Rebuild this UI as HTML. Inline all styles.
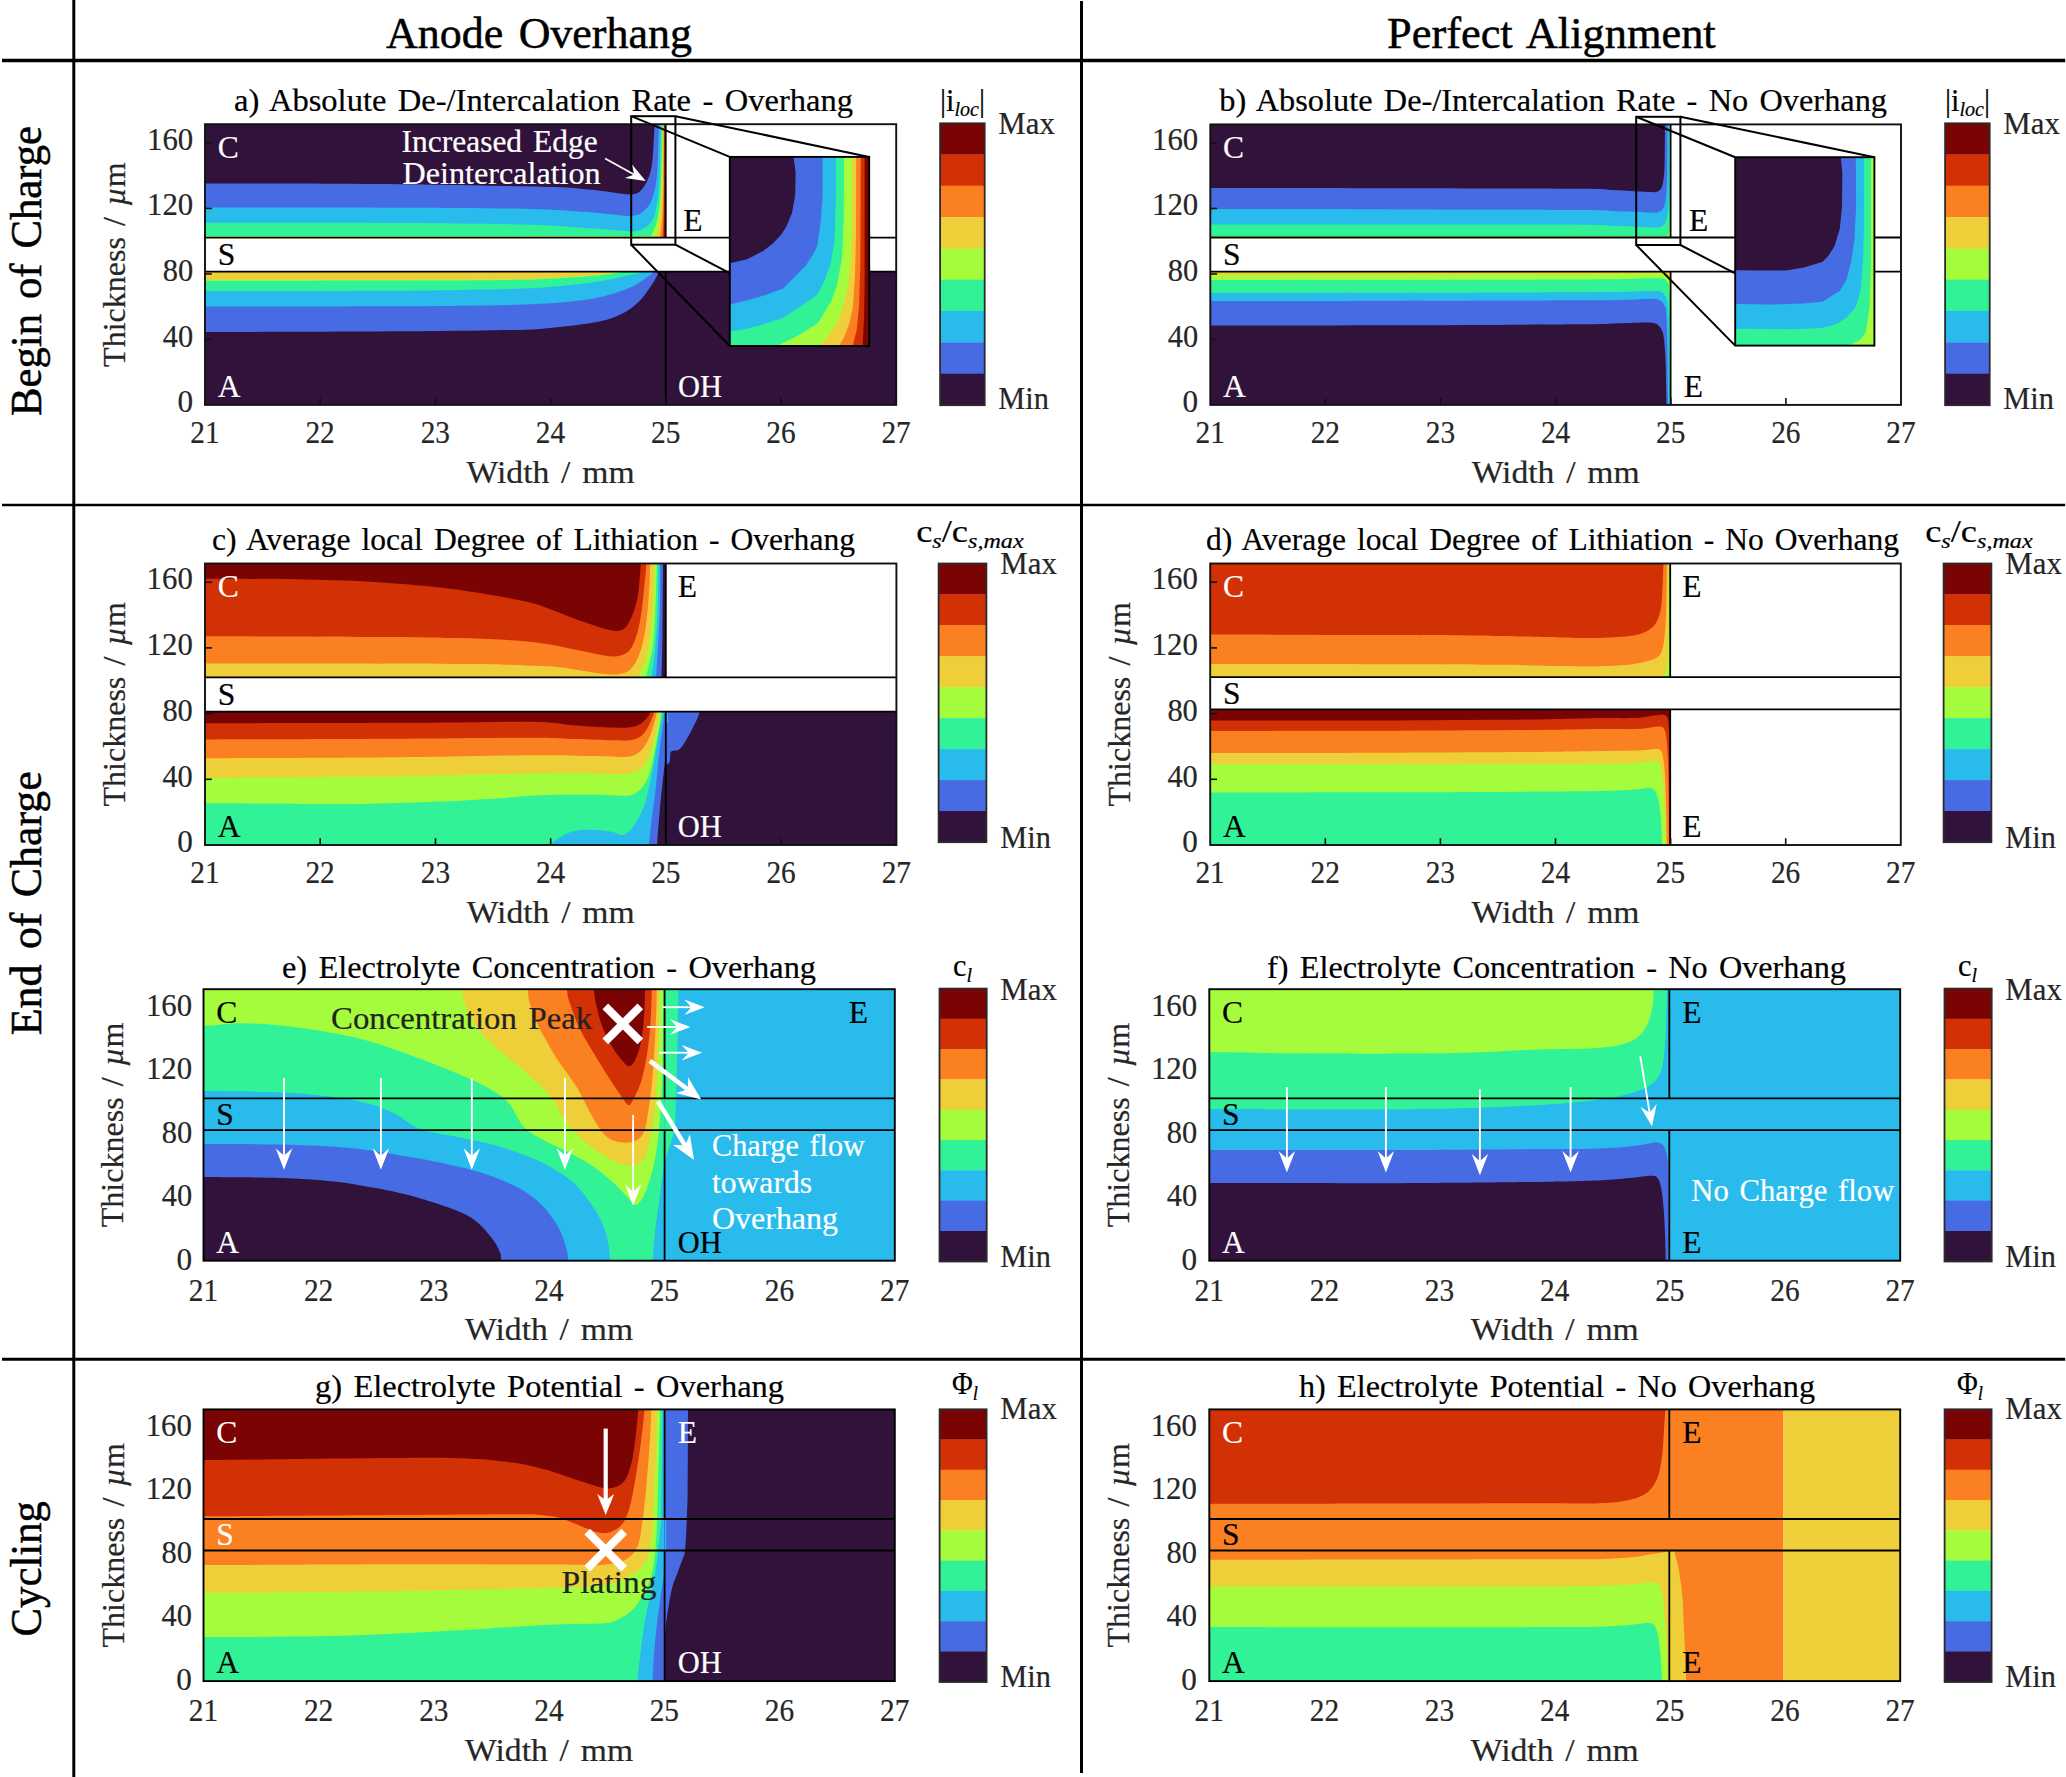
<!DOCTYPE html>
<html lang="en"><head><meta charset="utf-8"><title>Anode Overhang vs Perfect Alignment</title>
<style>html,body{margin:0;padding:0;background:#fff}svg{display:block}text{white-space:pre;word-spacing:0.1em}</style></head>
<body>
<svg width="2066" height="1777" viewBox="0 0 2066 1777" font-family="'Liberation Serif', 'DejaVu Serif', serif">
<defs><clipPath id="c1"><rect x="205" y="124.2" width="460.7" height="113.4"/></clipPath><clipPath id="c2"><rect x="205" y="271.7" width="691.2" height="133.2"/></clipPath><clipPath id="c3"><rect x="1210.3" y="124.4" width="460.3" height="113.1"/></clipPath><clipPath id="c4"><rect x="1210.3" y="271.7" width="460.3" height="133.2"/></clipPath><clipPath id="c5"><rect x="205" y="563.5" width="460.8" height="113.9"/></clipPath><clipPath id="c6"><rect x="205" y="711.6" width="460.8" height="133.4"/></clipPath><clipPath id="c7"><rect x="665.8" y="711.6" width="230.6" height="133.4"/></clipPath><clipPath id="c8"><rect x="1210.2" y="563.5" width="460" height="113.7"/></clipPath><clipPath id="c9"><rect x="1210.2" y="709.3" width="460" height="135.7"/></clipPath><clipPath id="c10"><rect x="203.5" y="989.2" width="461.1" height="271.5"/></clipPath><clipPath id="c11"><rect x="664.6" y="989.2" width="230.2" height="271.5"/></clipPath><clipPath id="c12"><rect x="1209.3" y="989.2" width="460" height="271.5"/></clipPath><clipPath id="c13"><rect x="203.5" y="1409.4" width="461.1" height="271.7"/></clipPath><clipPath id="c14"><rect x="664.6" y="1409.4" width="230.2" height="271.7"/></clipPath><clipPath id="c15"><rect x="1209.3" y="1409.4" width="460" height="271.7"/></clipPath><clipPath id="c16"><rect x="1669.3" y="1550.5" width="230.9" height="130.6"/></clipPath><clipPath id="c17"><rect x="729.8" y="156.9" width="139.4" height="189.1"/></clipPath><clipPath id="c18"><rect x="1735.2" y="157.2" width="139.2" height="188.4"/></clipPath></defs>
<rect width="2066" height="1777" fill="#fff"/>
<rect x="205" y="124.2" width="691.2" height="280.7" fill="#fff"/>
<g clip-path="url(#c1)">
<rect x="205" y="124.2" width="460.7" height="113.4" fill="#30123b"/>
<path d="M145 183.4C155 183.4 179.2 183.4 205 183.4C230.8 183.4 267.5 183.4 300 183.6C332.5 183.8 370 184 400 184.3C430 184.6 453.3 185 480 185.5C506.7 186 540 186.4 560 187.3C580 188.2 589.7 189.7 600 190.8C610.3 191.9 616.5 193.2 622 193.8C627.5 194.4 630 194.7 633 194.2C636 193.7 637.9 193.3 640.3 191C642.7 188.7 645.5 184.7 647.5 180.2C649.5 175.7 651 170.6 652 164C653 157.4 653.3 147.5 653.7 140.8C654.1 134.1 654.4 129.1 654.6 124C654.8 118.9 654.8 112.3 654.8 110L725.7 64.2L725.7 297.6L145 297.6Z" fill="#466be3"/>
<path d="M145 207.6C155 207.6 162.5 207.6 205 207.6C247.5 207.6 354.2 207.7 400 207.8C445.8 207.9 456.7 208 480 208.2C503.3 208.4 521 208.5 540 209.2C559 209.9 579.5 211.4 593.7 212.5C607.9 213.6 618.3 215.3 625 215.8C631.7 216.3 631.2 216.2 634 215.6C636.8 215 639.2 214.7 642 212.4C644.8 210.1 648.6 207.1 651 201.7C653.4 196.3 655.2 188.8 656.4 180.2C657.6 171.5 657.8 159.2 658.2 149.8C658.6 140.4 658.8 130.6 659 124C659.2 117.4 659.2 112.3 659.2 110L725.7 64.2L725.7 297.6L145 297.6Z" fill="#28bbec"/>
<path d="M145 222.8C155 222.8 162.5 222.8 205 222.8C247.5 222.8 354.2 222.8 400 223C445.8 223.2 456.7 223.5 480 223.8C503.3 224.1 521 224.2 540 225C559 225.8 579.5 227.6 593.7 228.6C607.9 229.6 618.1 230.6 625 231C631.9 231.4 631.9 231.4 635 231C638.1 230.6 640.9 230.5 643.9 228.6C646.9 226.7 650.6 224.1 652.8 219.6C655 215.1 656.2 208.9 657.3 201.7C658.4 194.5 659.1 186 659.6 176.6C660.1 167.2 660.3 153.8 660.5 145C660.7 136.2 660.8 129.8 660.9 124C661 118.2 661 112.3 661 110L725.7 64.2L725.7 297.6L145 297.6Z" fill="#32f298"/>
<path d="M648 242C648.4 241.3 648.7 240.7 650.1 237.6C651.5 234.5 654.8 229.2 656.4 223.2C658 217.2 659.1 212.4 660 201.7C660.9 190.9 661.4 171.6 661.8 158.7C662.2 145.8 662.2 132.1 662.3 124C662.4 115.9 662.4 112.3 662.4 110L725.7 64.2L725.7 297.6L145 297.6Z" fill="#a4fc3c"/>
<path d="M655 242C655.2 241.3 655.6 242.1 656.4 237.6C657.2 233.1 659.1 222.9 660 215C660.9 207.1 661.5 199.2 662 190C662.5 180.8 662.6 171 662.8 160C663 149 663.1 132.3 663.2 124C663.3 115.7 663.3 112.3 663.3 110L725.7 64.2L725.7 297.6L145 297.6Z" fill="#eecf3a"/>
<path d="M659 242C659.2 241.3 659.5 242.1 660 237.6C660.5 233.1 661.8 224.6 662.3 215C662.8 205.4 663 195.2 663.2 180C663.4 164.8 663.5 135.7 663.6 124C663.7 112.3 663.7 112.3 663.7 110L725.7 64.2L725.7 297.6L145 297.6Z" fill="#fb8022"/>
<path d="M662.2 242C662.3 241.3 662.5 242.1 662.7 237.6C662.9 233.1 663.4 224.6 663.6 215C663.8 205.4 663.9 195.2 664 180C664.1 164.8 664.2 135.7 664.2 124C664.2 112.3 664.2 112.3 664.2 110L725.7 64.2L725.7 297.6L145 297.6Z" fill="#d23105"/>
<path d="M664.4 242C664.4 241.3 664.4 257.3 664.5 237.6C664.6 217.9 664.8 145.3 664.8 124C664.8 102.7 664.8 112.3 664.8 110L725.7 64.2L725.7 297.6L145 297.6Z" fill="#7a0403"/>
<rect x="205" y="236" width="445" height="1.6" fill="#b5e83c"/>
</g>
<g clip-path="url(#c2)">
<rect x="205" y="271.7" width="691.2" height="133.2" fill="#30123b"/>
<path d="M145 332C155 332 179.2 332 205 332C230.8 332 267.5 331.9 300 331.8C332.5 331.7 370 331.5 400 331.3C430 331.1 456.7 330.9 480 330.5C503.3 330.1 521 330.2 540 328.9C559 327.6 580.3 325 593.7 322.6C607.1 320.2 613.1 317.9 620.6 314.5C628.1 311.1 633.4 306.8 638.5 302C643.6 297.2 647.7 290.7 651 285.9C654.3 281.1 656.7 276 658.2 273.4C659.7 270.8 659.7 270.6 660 270L700 271L700 211L145 211Z" fill="#466be3"/>
<path d="M145 306.5C155 306.5 162.5 306.5 205 306.5C247.5 306.5 354.2 306.5 400 306.3C445.8 306.1 456.7 305.9 480 305.5C503.3 305.1 521 305 540 303.8C559 302.6 578.8 301.1 593.7 298.4C608.6 295.7 620.5 291.3 629.5 287.7C638.5 284.1 643.6 279.4 647.5 276.9C651.4 274.3 651.7 273.5 652.8 272.4C653.9 271.2 653.8 270.4 654 270L654 211L145 211Z" fill="#28bbec"/>
<path d="M145 290.9C155 290.9 162.5 290.9 205 290.9C247.5 290.9 354.2 290.9 400 290.7C445.8 290.5 456.7 290 480 289.5C503.3 289 521 288.9 540 287.7C559 286.5 578.8 284.4 593.7 282.3C608.6 280.2 621.7 276.8 629.5 275.1C637.3 273.5 638.2 273.2 640.3 272.4C642.4 271.5 641.7 270.4 642 270L642 211L145 211Z" fill="#32f298"/>
<path d="M145 280.8C155 280.8 162.5 280.8 205 280.8C247.5 280.8 354.2 280.7 400 280.6C445.8 280.5 456.7 280.4 480 280.2C503.3 280 521 279.9 540 279.2C559 278.5 580.7 276.9 593.7 275.8C606.7 274.7 613.6 273.4 618 272.4C622.4 271.4 619.7 270.4 620 270L620 211L145 211Z" fill="#a4fc3c"/>
<path d="M145 279.8C155 279.8 162.5 279.8 205 279.8C247.5 279.8 354.2 279.8 400 279.7C445.8 279.6 456.7 279.5 480 279.3C503.3 279.1 521 279.1 540 278.4C559 277.7 581.2 276.1 593.7 275.1C606.2 274.1 611.1 273.2 615 272.4C618.9 271.5 616.7 270.4 617 270L617 211L145 211Z" fill="#eecf3a"/>
</g>
<line x1="205" y1="237.6" x2="896.2" y2="237.6" stroke="#000" stroke-width="1.8"/>
<line x1="205" y1="271.7" x2="896.2" y2="271.7" stroke="#000" stroke-width="1.8"/>
<line x1="665.7" y1="124.2" x2="665.7" y2="237.6" stroke="#000" stroke-width="1.8"/>
<line x1="665.7" y1="271.7" x2="665.7" y2="404.9" stroke="#000" stroke-width="1.8"/>
<rect x="205" y="124.2" width="691.2" height="280.7" fill="none" stroke="#111" stroke-width="1.9"/>
<line x1="320.2" y1="404.9" x2="320.2" y2="398.1" stroke="#101010" stroke-width="1.6"/>
<line x1="435.4" y1="404.9" x2="435.4" y2="398.1" stroke="#101010" stroke-width="1.6"/>
<line x1="550.6" y1="404.9" x2="550.6" y2="398.1" stroke="#101010" stroke-width="1.6"/>
<line x1="665.8" y1="404.9" x2="665.8" y2="398.1" stroke="#101010" stroke-width="1.6"/>
<line x1="781" y1="404.9" x2="781" y2="398.1" stroke="#101010" stroke-width="1.6"/>
<line x1="205" y1="339.4" x2="211.8" y2="339.4" stroke="#101010" stroke-width="1.6"/>
<line x1="205" y1="273.9" x2="211.8" y2="273.9" stroke="#101010" stroke-width="1.6"/>
<line x1="205" y1="208.4" x2="211.8" y2="208.4" stroke="#101010" stroke-width="1.6"/>
<line x1="205" y1="142.9" x2="211.8" y2="142.9" stroke="#101010" stroke-width="1.6"/>
<rect x="1210.3" y="124.4" width="690.7" height="280.5" fill="#fff"/>
<g clip-path="url(#c3)">
<rect x="1210.3" y="124.4" width="460.3" height="113.1" fill="#30123b"/>
<path d="M1150 187.9C1160 187.9 1168.3 187.9 1210 187.9C1251.7 187.9 1338.3 188 1400 188.2C1461.7 188.3 1544.8 188.5 1580 188.8C1615.2 189.1 1602.3 189.6 1611.5 190C1620.7 190.4 1628.6 190.8 1635.2 191.2C1641.8 191.5 1647.4 192 1650.9 192.1C1654.4 192.2 1654.8 192.4 1656.4 192C1658 191.6 1659.4 190.9 1660.4 189.6C1661.5 188.3 1662.1 186.9 1662.7 184.1C1663.3 181.3 1663.9 177.5 1664.2 173C1664.5 168.5 1664.6 165.2 1664.7 157.3C1664.8 149.4 1664.9 135.3 1664.9 125.8C1665 116.2 1665 104.3 1665 100L1730.6 64.4L1730.6 297.5L1150.3 297.5Z" fill="#466be3"/>
<path d="M1150 209C1160 209 1168.3 208.9 1210 209C1251.7 209.1 1338.3 209.2 1400 209.4C1461.7 209.6 1544.8 209.8 1580 210.1C1615.2 210.3 1602.3 210.6 1611.5 210.9C1620.7 211.2 1628.6 211.4 1635.2 211.7C1641.8 212 1647.2 212.5 1650.9 212.6C1654.6 212.7 1655.4 212.8 1657.2 212.4C1659 212 1660.8 211.4 1662 210.1C1663.2 208.8 1664 207.5 1664.7 204.6C1665.4 201.7 1665.9 198 1666.3 192.7C1666.7 187.4 1666.9 184.2 1667.1 173C1667.3 161.8 1667.4 138 1667.5 125.8C1667.6 113.6 1667.5 104.3 1667.5 100L1730.6 64.4L1730.6 297.5L1150.3 297.5Z" fill="#28bbec"/>
<path d="M1150 224.4C1160 224.4 1168.3 224.4 1210 224.4C1251.7 224.4 1338.3 224.4 1400 224.5C1461.7 224.6 1544.8 224.5 1580 224.7C1615.2 224.9 1602.3 225.5 1611.5 225.8C1620.7 226.1 1628.6 226.3 1635.2 226.6C1641.8 226.9 1647 227.3 1650.9 227.4C1654.8 227.5 1656.7 227.7 1658.8 227.3C1660.9 226.9 1662.2 226.5 1663.5 225.1C1664.8 223.7 1665.9 222.1 1666.7 218.7C1667.5 215.3 1667.9 210.9 1668.3 204.6C1668.7 198.3 1668.8 194 1669 180.9C1669.2 167.8 1669.2 139.3 1669.3 125.8C1669.3 112.3 1669.3 104.3 1669.3 100L1730.6 64.4L1730.6 297.5L1150.3 297.5Z" fill="#32f298"/>
<path d="M1665.5 240L1666.7 236.9L1669 232.9L1669.8 220.3L1670.2 200L1730.6 64.4L1730.6 297.5L1150.3 297.5Z" fill="#a4fc3c"/>
<rect x="1210.3" y="236.1" width="460.3" height="1.4" fill="#b5e83c"/>
</g>
<g clip-path="url(#c4)">
<rect x="1210.3" y="271.7" width="460.3" height="133.2" fill="#eecf3a"/>
<path d="M1150 275.1C1160 275.1 1138.3 275.2 1210 275.1C1281.7 275 1507.5 274.4 1580 274.2C1652.5 273.9 1631.3 273.7 1645 273.6C1658.7 273.5 1658.3 273.1 1662.2 273.4C1666.1 273.7 1667.3 274.2 1668.6 275.5C1669.9 276.8 1669.8 275.5 1670.1 281.1C1670.4 286.7 1670.4 283.2 1670.5 309.1C1670.6 335 1670.6 415.2 1670.6 436.4L1730.6 464.9L1150.3 464.9Z" fill="#a4fc3c"/>
<path d="M1150 280C1160 280 1138.3 280.1 1210 280C1281.7 279.9 1507.5 279.8 1580 279.5C1652.5 279.2 1631.3 278.5 1645 278.3C1658.7 278.1 1658.8 278 1662.3 278.4C1665.8 278.8 1665.2 279.5 1666.2 280.5C1667.2 281.5 1668 282.1 1668.6 284.4C1669.1 286.6 1669.2 288.1 1669.5 294C1669.8 299.9 1670 296.3 1670.1 320C1670.2 343.7 1670.2 417 1670.2 436.4L1730.6 464.9L1150.3 464.9Z" fill="#32f298"/>
<path d="M1150 293C1160 293 1138.3 293.1 1210 293C1281.7 292.9 1507.5 292.6 1580 292.3C1652.5 292 1631.7 291.2 1645 291.1C1658.3 291 1656.6 290.8 1659.9 291.4C1663.2 292 1663.5 293.3 1664.7 295C1665.9 296.7 1666.5 298.7 1667.1 301.8C1667.7 304.9 1668 307.9 1668.3 313.4C1668.6 318.9 1668.9 319.8 1669.1 335C1669.3 350.2 1669.5 387.8 1669.6 404.6C1669.7 421.4 1669.7 430.8 1669.7 436L1730.6 464.9L1150.3 464.9Z" fill="#28bbec"/>
<path d="M1150 301.1C1160 301.1 1138.3 301.2 1210 301.1C1281.7 301 1507.5 300.7 1580 300.3C1652.5 299.9 1632.4 299.1 1645 298.9C1657.6 298.7 1652.8 298.7 1655.5 299.1C1658.2 299.5 1659.8 300.1 1661.3 301.3C1662.8 302.5 1663.9 304.1 1664.7 306.1C1665.5 308.1 1665.8 308.6 1666.2 313.4C1666.6 318.2 1666.8 319.8 1667.1 335C1667.4 350.2 1667.9 387.8 1668.1 404.6C1668.3 421.4 1668.2 430.8 1668.2 436L1730.6 464.9L1150.3 464.9Z" fill="#466be3"/>
<path d="M1150 325.5C1160 325.5 1168.3 325.6 1210 325.5C1251.7 325.4 1338.3 325.4 1400 325.2C1461.7 325 1543.3 324.6 1580 324.3C1616.7 324 1608.7 323.5 1620 323.2C1631.3 322.9 1641.9 322.3 1647.8 322.4C1653.7 322.5 1653.6 322.9 1655.5 323.6C1657.4 324.3 1658.4 325.4 1659.4 326.5C1660.5 327.6 1661.1 328.5 1661.8 330.3C1662.5 332.1 1663.1 332.2 1663.7 337.1C1664.3 342.1 1665 348.8 1665.5 360C1666 371.2 1666.2 391.9 1666.4 404.6C1666.6 417.3 1666.5 430.8 1666.5 436L1730.6 464.9L1150.3 464.9Z" fill="#30123b"/>
</g>
<line x1="1210.3" y1="237.5" x2="1901" y2="237.5" stroke="#000" stroke-width="1.8"/>
<line x1="1210.3" y1="271.7" x2="1901" y2="271.7" stroke="#000" stroke-width="1.8"/>
<line x1="1670.6" y1="124.4" x2="1670.6" y2="237.5" stroke="#000" stroke-width="1.8"/>
<line x1="1670.6" y1="271.7" x2="1670.6" y2="404.9" stroke="#000" stroke-width="1.8"/>
<rect x="1210.3" y="124.4" width="690.7" height="280.5" fill="none" stroke="#111" stroke-width="1.9"/>
<line x1="1325.4" y1="404.9" x2="1325.4" y2="398.1" stroke="#101010" stroke-width="1.6"/>
<line x1="1440.5" y1="404.9" x2="1440.5" y2="398.1" stroke="#101010" stroke-width="1.6"/>
<line x1="1555.7" y1="404.9" x2="1555.7" y2="398.1" stroke="#101010" stroke-width="1.6"/>
<line x1="1670.8" y1="404.9" x2="1670.8" y2="398.1" stroke="#101010" stroke-width="1.6"/>
<line x1="1785.9" y1="404.9" x2="1785.9" y2="398.1" stroke="#101010" stroke-width="1.6"/>
<line x1="1210.3" y1="339.4" x2="1217.1" y2="339.4" stroke="#101010" stroke-width="1.6"/>
<line x1="1210.3" y1="274" x2="1217.1" y2="274" stroke="#101010" stroke-width="1.6"/>
<line x1="1210.3" y1="208.5" x2="1217.1" y2="208.5" stroke="#101010" stroke-width="1.6"/>
<line x1="1210.3" y1="143.1" x2="1217.1" y2="143.1" stroke="#101010" stroke-width="1.6"/>
<rect x="205" y="563.5" width="691.4" height="281.5" fill="#fff"/>
<g clip-path="url(#c5)">
<rect x="205" y="563.5" width="460.8" height="113.9" fill="#30123b"/>
<path d="M661.5 690C661.5 687.8 661.4 686.9 661.6 676.9C661.8 666.9 662.3 648.9 662.5 630C662.7 611.1 662.9 578.4 663 563.4C663.1 548.4 663 543.9 663 540L145 503.5L145 737.4Z" fill="#466be3"/>
<path d="M656 690C656 687.8 655.9 683.9 656.2 676.9C656.5 669.9 657.4 658.8 658 648C658.6 637.2 659.4 626.1 659.8 612C660.2 597.9 660.2 575.4 660.3 563.4C660.4 551.4 660.4 543.9 660.4 540L145 503.5L145 737.4Z" fill="#28bbec"/>
<path d="M651 690C651.1 687.8 651 683.9 651.7 676.9C652.4 669.9 654.3 658.8 655.3 648C656.3 637.2 657.1 626.1 657.6 612C658.1 597.9 658.3 575.4 658.5 563.4C658.7 551.4 658.6 543.9 658.6 540L145 503.5L145 737.4Z" fill="#32f298"/>
<path d="M644 690C644.4 687.8 644.8 683.9 646.2 676.9C647.6 669.9 651.1 658.8 652.6 648C654.1 637.2 654.6 626.1 655.3 612C656 597.9 656.5 575.4 656.7 563.4C657 551.4 656.8 543.9 656.8 540L145 503.5L145 737.4Z" fill="#a4fc3c"/>
<path d="M634 690C634.7 687.8 636.1 682.4 638.1 676.9C640.1 671.4 644.1 664.9 646.2 657.1C648.3 649.3 649.6 640.5 650.8 630C652 619.5 652.9 605.1 653.5 594C654.1 582.9 654.2 572.4 654.4 563.4C654.6 554.4 654.5 543.9 654.5 540L145 503.5L145 737.4Z" fill="#eecf3a"/>
<path d="M145 663.4C155 663.4 152.5 663.3 205 663.4C257.5 663.5 405.5 663.5 460 663.9C514.5 664.3 515.3 665.2 532 665.7C548.7 666.2 552.7 666.5 560 667.2C567.3 667.9 568.8 668.6 576 669.7C583.2 670.8 596.1 673 603 673.8C609.9 674.5 612.9 674.9 617.4 674.2C621.9 673.5 626.4 672.9 630 669.7C633.6 666.6 636.5 661.9 639 655.3C641.5 648.7 643.6 640.2 645.3 630C646.9 619.8 648.1 605.1 648.9 594C649.7 582.9 650 572.4 650.2 563.4C650.5 554.4 650.4 543.9 650.4 540L640 503.5L145 503.5Z" fill="#fb8022"/>
<path d="M145 636.3C155 636.3 167.5 636.2 205 636.3C242.5 636.4 327.5 636.6 370 636.9C412.5 637.2 436 637.5 460 638.1C484 638.7 499.8 639.5 514 640.5C528.2 641.5 534.7 642.2 545 643.8C555.3 645.3 566.3 647.9 576 649.8C585.7 651.7 596.1 654.2 603 655.3C609.9 656.4 612.9 657.1 617.4 656.2C621.9 655.3 626.5 654.2 630 649.8C633.5 645.4 636 637.8 638.1 630C640.2 622.2 641.4 612 642.6 603C643.8 594 644.7 582.6 645.3 576C645.9 569.4 646 569.4 646.2 563.4C646.4 557.4 646.4 543.9 646.4 540L640 503.5L145 503.5Z" fill="#d23105"/>
<path d="M145 578.7C155 578.7 179.5 578.6 205 578.7C230.5 578.8 270.5 578.8 298 579.3C325.5 579.8 346 580.4 370 581.8C394 583.2 421 585.4 442 587.7C463 590 481 593.2 496 595.8C511 598.3 522.2 600.5 532 603C541.8 605.5 547.7 608.4 555 611.1C562.3 613.8 568 616.4 576 619.2C584 622.1 596.1 626.2 603 628.2C609.9 630.2 613.5 631.2 617.4 630.9C621.3 630.6 623.7 629.5 626.4 626.4C629.1 623.2 631.6 617.4 633.6 612C635.6 606.6 636.9 602.1 638.1 594C639.3 585.9 640.3 572.4 640.8 563.4C641.3 554.4 641 543.9 641 540L640 503.5L145 503.5Z" fill="#7a0403"/>
</g>
<g clip-path="url(#c6)">
<rect x="205" y="711.6" width="460.8" height="133.4" fill="#30123b"/>
<path d="M656 870C656.2 865.7 656.5 854.3 657.1 844.3C657.7 834.3 658.9 820.3 659.8 810.1C660.7 799.9 661.5 792.1 662.5 783.1C663.5 774.1 664.8 763.3 665.5 756.1C666.2 748.9 666.8 742.7 667 740L667 651.6L145 651.6L145 905Z" fill="#466be3"/>
<path d="M646 870C646.5 865.7 648 852.8 649 844.3C650 835.8 650.7 827.8 651.7 819.1C652.8 810.4 654.1 802.6 655.3 792.1C656.5 781.6 657.7 766.6 658.9 756.1C660.1 745.6 661.6 736.4 662.5 729.1C663.4 721.8 663.9 717.4 664.3 712.5C664.7 707.6 664.9 702.1 665 700L145 651.6L145 905Z" fill="#28bbec"/>
<path d="M540 858C541.8 855.7 546.9 848.1 550.8 844.3C554.7 840.5 559.2 837.5 563.4 835.3C567.6 833 570.9 831.7 576 830.8C581.1 829.9 588 829.8 594 829.9C600 830 607.5 830.9 612 831.7C616.5 832.6 618.5 834.8 621 835C623.5 835.2 624.9 834.5 627 833C629.1 831.5 631 829.8 633.6 826C636.2 822.2 640.2 815.8 642.6 810.1C645 804.5 646.2 799.6 648 792.1C649.8 784.6 651.8 774.1 653.5 765.1C655.2 756.1 656.6 745.6 658 738.1C659.4 730.6 660.9 724.4 661.6 720.1C662.4 715.8 662.2 715.9 662.5 712.5C662.8 709.1 663.3 702.1 663.5 700L145 651.6L145 905L540 905Z" fill="#32f298"/>
<path d="M145 803.3C155 803.3 179.2 803.2 205 803.3C230.8 803.4 272.5 803.8 300 803.9C327.5 804 346.7 804.1 370 803.7C393.3 803.3 418.3 802.5 440 801.6C461.7 800.7 483.3 799.3 500 798.2C516.7 797.1 524.3 795.8 540 795.2C555.7 794.6 579.6 794.7 594 794.8C608.4 794.9 619.2 796.2 626.4 795.7C633.6 795.2 633.9 794.5 637.2 792.1C640.5 789.7 643.8 785.8 646.2 781.3C648.6 776.8 650 771.4 651.7 765.1C653.4 758.8 654.9 750.4 656.2 743.5C657.6 736.6 659 728.9 659.8 723.7C660.6 718.5 660.6 716.5 661 712.5C661.4 708.5 661.8 702.1 662 700L662 651.6L145 651.6Z" fill="#a4fc3c"/>
<path d="M145 777.7C155 777.7 162.5 778 205 777.7C247.5 777.5 354.2 776.7 400 776.2C445.8 775.7 456.7 775.1 480 774.6C503.3 774.1 521 773.4 540 773.2C559 773 580.5 773.1 594 773.2C607.5 773.4 614.4 774.2 621 774.1C627.6 774 630 773.5 633.6 772.3C637.2 771.1 639.9 769.9 642.6 766.9C645.3 763.9 647.8 759.1 649.8 754.3C651.8 749.5 653 743.8 654.4 738.1C655.8 732.4 657.2 724.4 658 720.1C658.8 715.8 658.9 715.9 659.2 712.5C659.5 709.1 659.9 702.1 660 700L662 651.6L145 651.6Z" fill="#eecf3a"/>
<path d="M145 758.3C155 758.3 162.5 758.5 205 758.3C247.5 758.1 354.2 757.6 400 757.2C445.8 756.8 456.7 756.3 480 756C503.3 755.7 521 755.2 540 755.2C559 755.2 580.5 755.8 594 756.1C607.5 756.4 614.4 757.1 621 757C627.6 756.9 630 756.6 633.6 755.2C637.2 753.9 639.9 752 642.6 748.9C645.3 745.8 647.8 740.8 649.8 736.3C651.8 731.8 653.2 725.9 654.4 721.9C655.5 717.9 656.2 716.1 656.7 712.5C657.2 708.9 657.4 702.1 657.5 700L662 651.6L145 651.6Z" fill="#fb8022"/>
<path d="M145 739.5C155 739.5 162.5 739.6 205 739.5C247.5 739.4 354.2 739 400 738.8C445.8 738.6 456.7 738.3 480 738.1C503.3 737.9 524 737.6 540 737.7C556 737.9 564 738.6 576 739C588 739.4 603 740.1 612 740.3C621 740.5 625.2 741 630 740.3C634.8 739.6 637.8 738.5 640.8 736.3C643.8 734.1 646 730.6 648 727.3C650 724 651.6 719 652.6 716.5C653.6 714 653.4 715.2 653.8 712.5C654.2 709.8 654.8 702.1 655 700L662 651.6L145 651.6Z" fill="#d23105"/>
<path d="M145 723.3C155 723.3 162.5 723.4 205 723.3C247.5 723.2 354.2 723 400 722.8C445.8 722.6 456.7 722.4 480 722.2C503.3 722.1 524 721.4 540 721.9C556 722.4 564 724.5 576 725.5C588 726.5 603 727.3 612 727.6C621 727.9 625.2 727.9 630 727.3C634.8 726.6 637.8 725.5 640.8 723.7C643.8 721.9 646.5 718.4 648 716.5C649.5 714.6 649.3 715.2 649.8 712.5C650.3 709.8 650.8 702.1 651 700L662 651.6L145 651.6Z" fill="#7a0403"/>
</g>
<g clip-path="url(#c7)">
<rect x="665.8" y="711.6" width="230.6" height="133.4" fill="#30123b"/>
<path d="M699.4 700C699.4 702.1 700.4 708 699.4 712.5C698.4 717 695.6 722.1 693.1 727.3C690.6 732.5 686.5 739.8 684.1 743.5C681.7 747.2 680.5 748.6 678.7 749.8C676.9 751 674.6 750.2 673.3 750.7C671.9 751.2 671.2 750.8 670.6 752.6C670 754.4 670.3 759.6 669.7 761.5C669.1 763.4 668.6 763.6 667 764.2C665.4 764.8 661.2 764.9 660 765L660 700Z" fill="#466be3"/>
<rect x="665.8" y="711.6" width="2.2" height="11.4" fill="#28bbec"/>
</g>
<line x1="205" y1="677.4" x2="896.4" y2="677.4" stroke="#000" stroke-width="1.8"/>
<line x1="205" y1="711.6" x2="896.4" y2="711.6" stroke="#000" stroke-width="1.8"/>
<line x1="665.8" y1="563.5" x2="665.8" y2="677.4" stroke="#000" stroke-width="1.8"/>
<line x1="665.8" y1="711.6" x2="665.8" y2="845" stroke="#000" stroke-width="1.8"/>
<rect x="205" y="563.5" width="691.4" height="281.5" fill="none" stroke="#111" stroke-width="1.9"/>
<line x1="320.2" y1="845" x2="320.2" y2="838.2" stroke="#101010" stroke-width="1.6"/>
<line x1="435.5" y1="845" x2="435.5" y2="838.2" stroke="#101010" stroke-width="1.6"/>
<line x1="550.7" y1="845" x2="550.7" y2="838.2" stroke="#101010" stroke-width="1.6"/>
<line x1="665.9" y1="845" x2="665.9" y2="838.2" stroke="#101010" stroke-width="1.6"/>
<line x1="781.2" y1="845" x2="781.2" y2="838.2" stroke="#101010" stroke-width="1.6"/>
<line x1="205" y1="779.3" x2="211.8" y2="779.3" stroke="#101010" stroke-width="1.6"/>
<line x1="205" y1="713.6" x2="211.8" y2="713.6" stroke="#101010" stroke-width="1.6"/>
<line x1="205" y1="647.9" x2="211.8" y2="647.9" stroke="#101010" stroke-width="1.6"/>
<line x1="205" y1="582.2" x2="211.8" y2="582.2" stroke="#101010" stroke-width="1.6"/>
<rect x="1210.2" y="563.5" width="690.6" height="281.5" fill="#fff"/>
<g clip-path="url(#c8)">
<rect x="1210.2" y="563.5" width="460" height="113.7" fill="#a4fc3c"/>
<path d="M1664 690C1664 687.8 1663.8 680.9 1664.3 676.9C1664.8 672.9 1666.3 673.9 1667 666.1C1667.7 658.3 1667.9 647.1 1668.2 630C1668.5 612.9 1668.7 578.4 1668.8 563.4C1668.9 548.4 1668.8 543.9 1668.8 540L1150.2 503.5L1150.2 737.2Z" fill="#eecf3a"/>
<path d="M1150.2 663.9C1160.2 663.9 1168.4 663.8 1210 663.9C1251.6 664 1351.7 664.1 1400 664.2C1448.3 664.4 1473.3 664.5 1500 664.8C1526.7 665.1 1544.3 665.7 1560 666C1575.7 666.3 1582.3 666.6 1594 666.4C1605.7 666.2 1620.4 665.7 1630 664.6C1639.6 663.5 1646.6 661.6 1651.7 659.8C1656.8 657.9 1658.6 657 1660.7 653.5C1662.8 650 1663.4 645.9 1664.3 639C1665.2 632.1 1665.6 624.6 1666.1 612C1666.5 599.4 1666.8 575.4 1667 563.4C1667.2 551.4 1667 543.9 1667 540L1667 503.5L1150.2 503.5Z" fill="#fb8022"/>
<path d="M1150.2 634.5C1160.2 634.5 1168.4 634.4 1210 634.5C1251.6 634.6 1351.7 634.8 1400 635C1448.3 635.2 1473.3 635.6 1500 636C1526.7 636.4 1544.3 637.1 1560 637.4C1575.7 637.7 1582.3 638.2 1594 638C1605.7 637.8 1621 637.2 1630 636C1639 634.8 1643.5 633 1648 630.5C1652.5 628 1654.7 625.6 1657 621C1659.3 616.4 1660.5 612.6 1661.6 603C1662.7 593.4 1663.1 573.9 1663.4 563.4C1663.7 552.9 1663.5 543.9 1663.5 540L1667 503.5L1150.2 503.5Z" fill="#d23105"/>
</g>
<g clip-path="url(#c9)">
<rect x="1210.2" y="709.3" width="460" height="135.7" fill="#7a0403"/>
<path d="M1150.2 720.6C1160.2 720.6 1168.4 720.6 1210 720.6C1251.6 720.6 1345 720.6 1400 720.4C1455 720.2 1506.7 719.8 1540 719.4C1573.3 719 1584.4 718.3 1600 718.1C1615.6 717.9 1625.4 718.5 1633.8 718.1C1642.2 717.8 1646.1 716.5 1650.6 716C1655.1 715.5 1658.3 714.9 1660.8 714.8C1663.3 714.7 1664.6 714.8 1665.8 715.6C1667 716.4 1667.4 717.5 1667.9 719.4C1668.4 721.3 1668.6 724.3 1668.8 727C1669 729.7 1669 729.9 1669.2 735.4C1669.4 740.9 1669.7 732.6 1669.8 760C1669.9 787.4 1670 876.7 1670 900L1150.2 905Z" fill="#d23105"/>
<path d="M1150.2 730.9C1160.2 730.9 1168.4 730.9 1210 730.9C1251.6 730.9 1345 730.9 1400 730.8C1455 730.6 1506.7 730.3 1540 730C1573.3 729.7 1584.4 729.2 1600 729.1C1615.6 729 1625.4 729.4 1633.8 729.1C1642.2 728.8 1646.4 727.8 1650.6 727.4C1654.8 727 1657 726.5 1659.1 726.6C1661.2 726.7 1662.2 726.6 1663.3 727.8C1664.4 729 1665.1 730 1665.8 733.8C1666.5 737.6 1667.1 743.6 1667.5 750.6C1667.9 757.6 1668.2 766 1668.4 775.9C1668.6 785.8 1668.7 798.4 1668.8 809.7C1668.9 821 1669 828.5 1669 843.5C1669 858.5 1669.1 890.6 1669.1 900L1150.2 905Z" fill="#fb8022"/>
<path d="M1150.2 753C1160.2 753 1168.4 753 1210 753C1251.6 753 1345 753 1400 752.8C1455 752.6 1506.7 752.3 1540 752C1573.3 751.7 1584.4 751.3 1600 751.1C1615.6 750.9 1625.4 750.9 1633.8 750.6C1642.2 750.3 1646.7 749.7 1650.6 749.4C1654.5 749.1 1655.7 748.7 1657.4 748.9C1659.1 749.1 1659.8 748.9 1660.8 750.6C1661.8 752.3 1662.6 754.9 1663.3 759.1C1664 763.3 1664.5 767.5 1665 775.9C1665.5 784.3 1665.9 798.4 1666.2 809.7C1666.5 821 1666.7 828.5 1666.8 843.5C1666.9 858.5 1666.9 890.6 1666.9 900L1150.2 905Z" fill="#eecf3a"/>
<path d="M1150.2 764.2C1160.2 764.2 1168.4 764.2 1210 764.2C1251.6 764.2 1345 764.2 1400 764.2C1455 764.2 1506.7 764.1 1540 764C1573.3 763.9 1584.4 763.9 1600 763.7C1615.6 763.5 1625.4 763.3 1633.8 762.9C1642.2 762.5 1646.9 761.5 1650.6 761.2C1654.2 760.9 1654.3 760.5 1655.7 760.9C1657.1 761.2 1658.1 761.5 1659.1 763.3C1660.1 765.1 1660.8 766.8 1661.6 771.7C1662.4 776.6 1663.1 785.1 1663.7 792.8C1664.3 800.5 1664.7 809.6 1665 818.1C1665.3 826.6 1665.6 829.9 1665.7 843.5C1665.8 857.1 1665.8 890.6 1665.8 900L1150.2 905Z" fill="#a4fc3c"/>
<path d="M1150.2 792.5C1160.2 792.5 1168.4 792.5 1210 792.5C1251.6 792.5 1345 792.4 1400 792.3C1455 792.1 1506.7 791.8 1540 791.6C1573.3 791.4 1584.4 791.5 1600 791.1C1615.6 790.8 1625.9 790 1633.8 789.5C1641.7 789 1644.2 788 1647.3 787.9C1650.4 787.8 1650.8 787.8 1652.3 788.6C1653.8 789.4 1655 790.4 1656.1 792.8C1657.2 795.2 1658.3 798.8 1659.1 803C1659.9 807.2 1660.3 811.4 1660.8 818.1C1661.3 824.9 1661.7 829.9 1661.9 843.5C1662.1 857.1 1662 890.6 1662 900L1150.2 905Z" fill="#32f298"/>
</g>
<line x1="1210.2" y1="677.2" x2="1900.8" y2="677.2" stroke="#000" stroke-width="1.8"/>
<line x1="1210.2" y1="709.3" x2="1900.8" y2="709.3" stroke="#000" stroke-width="1.8"/>
<line x1="1670.2" y1="563.5" x2="1670.2" y2="677.2" stroke="#000" stroke-width="1.8"/>
<line x1="1670.2" y1="709.3" x2="1670.2" y2="845" stroke="#000" stroke-width="1.8"/>
<rect x="1210.2" y="563.5" width="690.6" height="281.5" fill="none" stroke="#111" stroke-width="1.9"/>
<line x1="1325.3" y1="845" x2="1325.3" y2="838.2" stroke="#101010" stroke-width="1.6"/>
<line x1="1440.4" y1="845" x2="1440.4" y2="838.2" stroke="#101010" stroke-width="1.6"/>
<line x1="1555.5" y1="845" x2="1555.5" y2="838.2" stroke="#101010" stroke-width="1.6"/>
<line x1="1670.6" y1="845" x2="1670.6" y2="838.2" stroke="#101010" stroke-width="1.6"/>
<line x1="1785.7" y1="845" x2="1785.7" y2="838.2" stroke="#101010" stroke-width="1.6"/>
<line x1="1210.2" y1="779.3" x2="1217" y2="779.3" stroke="#101010" stroke-width="1.6"/>
<line x1="1210.2" y1="713.6" x2="1217" y2="713.6" stroke="#101010" stroke-width="1.6"/>
<line x1="1210.2" y1="647.9" x2="1217" y2="647.9" stroke="#101010" stroke-width="1.6"/>
<line x1="1210.2" y1="582.2" x2="1217" y2="582.2" stroke="#101010" stroke-width="1.6"/>
<rect x="203.5" y="989.2" width="691.3" height="271.5" fill="#28bbec"/>
<g clip-path="url(#c10)">
<rect x="203.5" y="989.2" width="461.1" height="271.5" fill="#32f298"/>
<path d="M143.5 1091.1C153.7 1091.1 181.7 1090.9 204.4 1091.1C227.2 1091.3 258.4 1091.4 280 1092.4C301.6 1093.4 319.1 1095 334.1 1096.9C349.1 1098.9 359.6 1101.1 370.1 1104.1C380.6 1107.1 388.7 1110.7 397.1 1114.9C405.5 1119.1 410 1125.5 420.5 1129.3C431 1133 447.5 1134.7 460.1 1137.4C472.7 1140.1 484.1 1142 496.1 1145.5C508.1 1149 521.9 1153.8 532.2 1158.1C542.5 1162.4 550.7 1167.1 558 1171.6C565.3 1176.1 570.6 1179.8 576 1185.1C581.4 1190.3 586.2 1197.1 590.4 1203.1C594.6 1209.1 598.4 1215.1 601.2 1221.1C604.1 1227.1 606 1232.5 607.5 1239.1C609 1245.7 609.6 1252.2 610.2 1260.7C610.8 1269.2 610.9 1285.1 611 1290L143.5 1320.7Z" fill="#28bbec"/>
<path d="M143.5 1144C153.7 1144 181.7 1143.9 204.4 1144C227.2 1144.1 255.4 1143.9 280 1144.6C304.6 1145.3 331.1 1146.2 352.1 1148.2C373.1 1150.2 388.1 1153.2 406.1 1156.3C424.1 1159.4 445.1 1163.5 460.1 1167.1C475.1 1170.7 485.6 1174 496.1 1177.9C506.6 1181.8 515.7 1186.1 523.2 1190.5C530.7 1194.9 536.4 1200 541.2 1204.5C546 1209 548.9 1213.2 552 1217.5C555.1 1221.8 557.6 1225.6 559.8 1230.1C562 1234.6 563.8 1239.4 565.2 1244.5C566.7 1249.6 567.7 1253.1 568.5 1260.7C569.3 1268.3 569.8 1285.1 570 1290L143.5 1320.7Z" fill="#466be3"/>
<path d="M143.5 1177C153.7 1177 181.7 1176.8 204.4 1177C227.2 1177.2 258.4 1177.2 280 1177.9C301.6 1178.7 316.1 1179.4 334.1 1181.5C352.1 1183.6 373.1 1187.5 388.1 1190.5C403.1 1193.5 412.1 1195.9 424.1 1199.5C436.1 1203.1 451.1 1208.2 460.1 1212.1C469.1 1216 472.7 1218.4 478.1 1222.9C483.5 1227.4 488.9 1234.3 492.5 1239.1C496.1 1243.9 498.2 1248.1 499.7 1251.7C501.1 1255.3 500.9 1254.3 501.2 1260.7C501.5 1267.1 501.4 1285.1 501.5 1290L143.5 1320.7Z" fill="#30123b"/>
<path d="M651 1290C651.3 1285.1 651.9 1270.7 652.6 1260.7C653.3 1250.7 654.2 1239.7 655.3 1230.1C656.3 1220.5 657.7 1212.1 658.9 1203.1C660.1 1194.1 661.5 1183.6 662.5 1176.1C663.5 1168.6 664 1163.3 664.6 1158.1C665.2 1152.9 665.8 1147.2 666 1145L700 1145L700 1320.7Z" fill="#28bbec"/>
<path d="M143.5 1025.7C153.7 1025.7 187.7 1026.1 204.4 1025.7C221.2 1025.3 228.4 1022.9 244 1023.2C259.6 1023.5 278.3 1024.8 298 1027.5C317.7 1030.2 342.4 1034.2 362.1 1039.2C381.8 1044.2 398.1 1050.6 416.1 1057.2C434.1 1063.8 456.6 1072.9 470.1 1078.9C483.6 1084.9 490.5 1089.1 497.1 1093.3C503.7 1097.5 506.4 1100.2 509.7 1104.1C513 1108 514.6 1112.8 517 1116.7C519.4 1120.6 520.9 1124.1 524.2 1127.4C527.5 1130.7 531.4 1133.2 537 1136.5C542.6 1139.8 551.5 1144 558 1147.3C564.5 1150.6 570 1153 576 1156.3C582 1159.6 588 1162.9 594 1167.1C600 1171.3 606.6 1176.7 612 1181.5C617.4 1186.3 622.5 1192 626.4 1195.9C630.3 1199.8 632.7 1204.6 635.4 1204.9C638.1 1205.2 640.2 1201.9 642.6 1197.7C645 1193.5 647.7 1186.3 649.8 1179.7C651.9 1173.1 653.8 1166.2 655.3 1158.1C656.8 1150 657.9 1140.1 658.9 1131.1C659.9 1122.1 660.4 1114.6 661 1104.1C661.6 1093.6 662.1 1087.1 662.5 1068C662.9 1048.9 663.2 1009.4 663.4 989.7C663.6 970 663.6 956.6 663.6 950L143.5 929.2Z" fill="#a4fc3c"/>
<path d="M461.5 950C461.6 956.6 461.5 981.4 461.9 989.7C462.3 998 462.2 995 463.7 999.6C465.2 1004.2 467.3 1011.3 470.9 1017.6C474.5 1023.9 478.1 1029.9 485.3 1037.4C492.5 1044.9 504.9 1054.5 514.2 1062.6C523.5 1070.7 534.6 1079.8 541.2 1086.1C547.8 1092.4 550.3 1095.5 553.8 1100.5C557.3 1105.5 558.3 1110.6 562 1116C565.7 1121.4 570.7 1127.4 576 1132.9C581.3 1138.4 588 1144.6 594 1149.1C600 1153.6 606.9 1157.4 612 1159.9C617.1 1162.5 620.7 1163.5 624.6 1164.4C628.5 1165.3 632.1 1166.3 635.4 1165.3C638.7 1164.2 642 1162.3 644.4 1158.1C646.8 1153.9 648.1 1147.6 649.8 1140.1C651.5 1132.6 653.2 1123.6 654.4 1113.1C655.6 1102.6 656.4 1090.6 657.1 1077.1C657.9 1063.6 658.5 1046.6 658.9 1032C659.3 1017.4 659.6 1003.4 659.8 989.7C660 976 660 956.6 660 950Z" fill="#eecf3a"/>
<path d="M527.3 950C527.4 956.6 527.2 980.5 527.7 989.7C528.2 998.9 528.8 999.1 530.4 1005C532 1010.9 535 1019 537.6 1024.8C540.2 1030.6 542.6 1034 546 1040C549.4 1046 553 1052.9 558 1060.6C563 1068.3 570.6 1077.3 576 1086.1C581.4 1094.8 586.2 1105.6 590.4 1113.1C594.6 1120.6 597.6 1126.6 601.2 1131.1C604.8 1135.6 607.8 1138.1 612 1140.1C616.2 1142 622.2 1142.8 626.4 1142.8C630.6 1142.8 634.2 1142 637.2 1140.1C640.2 1138.1 642.6 1135.6 644.4 1131.1C646.2 1126.6 646.8 1120.6 648 1113.1C649.2 1105.6 650.6 1096.6 651.7 1086.1C652.8 1075.6 653.6 1062 654.4 1050C655.1 1038 655.8 1024 656.2 1014C656.6 1004 656.6 1000.4 656.7 989.7C656.8 979 656.8 956.6 656.8 950Z" fill="#fb8022"/>
<path d="M566.5 950C566.6 956.6 566.3 980.5 567 989.7C567.7 998.9 568.5 998.5 570.6 1005C572.7 1011.5 575.7 1020.3 579.6 1028.4C583.5 1036.5 589.2 1045.5 594 1053.6C598.8 1061.7 604.2 1070.5 608.4 1077.1C612.6 1083.7 615.9 1088.6 619.2 1093.3C622.5 1098 625.8 1104.1 628.2 1105C630.6 1105.9 631.5 1102.5 633.6 1098.7C635.7 1095 638.7 1089.1 640.8 1082.5C642.9 1075.9 644.7 1067.4 646.2 1059C647.7 1050.6 648.9 1041 649.8 1032C650.6 1023 651 1012 651.3 1005C651.6 998 651.6 998.9 651.7 989.7C651.8 980.5 651.8 956.6 651.8 950Z" fill="#d23105"/>
<path d="M593.5 950C593.6 956.6 593.3 979.6 594 989.7C594.7 999.8 596.1 1003.9 597.6 1010.4C599.1 1016.9 600.6 1022.4 603 1028.4C605.4 1034.4 609 1041.3 612 1046.4C615 1051.5 618.3 1055.7 621 1059C623.7 1062.3 626.1 1065.6 628.2 1066.2C630.3 1066.8 631.8 1065.3 633.6 1062.6C635.4 1059.9 637.5 1055.1 639 1050C640.5 1044.9 641.7 1038.6 642.6 1032C643.5 1025.4 644 1017.4 644.4 1010.4C644.8 1003.4 644.9 999.8 645 989.7C645.1 979.6 645.1 956.6 645.1 950Z" fill="#7a0403"/>
</g>
<g clip-path="url(#c11)">
<path d="M678.4 950C678.4 956.6 678.4 976 678.3 989.7C678.2 1003.4 678 1019 677.8 1032C677.6 1045 677.2 1056.9 676.9 1068C676.6 1079.1 676.3 1089.7 676 1098.7C675.7 1107.7 675.7 1115.5 675.1 1122.1C674.5 1128.7 673.5 1133.8 672.4 1138.3C671.3 1142.8 669.8 1145.8 668.8 1149.1C667.8 1152.4 666.8 1155.1 666.1 1158.1C665.4 1161.1 665.1 1163.4 664.6 1167.1C664.1 1170.8 663.3 1177.8 663 1180L650 1180L650 950Z" fill="#32f298"/>
</g>
<line x1="203.5" y1="1098.3" x2="894.8" y2="1098.3" stroke="#000" stroke-width="1.8"/>
<line x1="203.5" y1="1130.2" x2="894.8" y2="1130.2" stroke="#000" stroke-width="1.8"/>
<line x1="664.6" y1="989.2" x2="664.6" y2="1098.3" stroke="#000" stroke-width="1.8"/>
<line x1="664.6" y1="1130.2" x2="664.6" y2="1260.7" stroke="#000" stroke-width="1.8"/>
<rect x="203.5" y="989.2" width="691.3" height="271.5" fill="none" stroke="#000" stroke-width="1.9"/>
<rect x="1209.3" y="989.2" width="690.9" height="271.5" fill="#28bbec"/>
<g clip-path="url(#c12)">
<path d="M1149.3 1109.1C1159.3 1109.1 1184.2 1109 1209.3 1109.1C1234.4 1109.2 1268.2 1109.5 1300 1109.6C1331.8 1109.6 1370 1109.7 1400 1109.4C1430 1109.1 1456.7 1108.5 1480 1107.8C1503.3 1107.1 1524 1105.9 1540 1105C1556 1104.1 1564 1103.5 1576 1102.3C1588 1101.1 1601.5 1099.8 1612 1097.8C1622.5 1095.8 1632.1 1093.1 1639 1090.6C1645.9 1088 1649.9 1085.7 1653.5 1082.5C1657.1 1079.3 1658.9 1076.5 1660.7 1071.7C1662.5 1066.9 1663.4 1061.7 1664.3 1053.6C1665.2 1045.5 1665.6 1033.7 1666.1 1023C1666.5 1012.4 1666.8 1001.9 1667 989.7C1667.2 977.5 1667.2 956.6 1667.2 950L1149.3 929.2Z" fill="#32f298"/>
<path d="M1149.3 1052.2C1159.3 1052.2 1184.2 1052 1209.3 1052.2C1234.4 1052.4 1268.2 1053 1300 1053.2C1331.8 1053.4 1370 1053.8 1400 1053.6C1430 1053.4 1456.7 1052.9 1480 1052.2C1503.3 1051.5 1521 1050.2 1540 1049.5C1559 1048.8 1580.5 1049 1594 1048.2C1607.5 1047.4 1613.8 1046.4 1621 1044.6C1628.2 1042.8 1633 1040.4 1637.2 1037.4C1641.4 1034.4 1643.8 1031.1 1646.2 1026.6C1648.6 1022.1 1650.4 1016.5 1651.7 1010.4C1653 1004.2 1653.4 999.8 1653.8 989.7C1654.2 979.6 1654 956.6 1654 950L1149.3 929.2Z" fill="#a4fc3c"/>
<path d="M1149.3 1150C1159.3 1150 1167.5 1150 1209.3 1150C1251.1 1150 1344.9 1150.2 1400 1150C1455.1 1149.8 1507.7 1149.3 1540 1149.1C1572.3 1148.9 1579 1149.2 1594 1148.7C1609 1148.2 1621 1147.2 1630 1146.4C1639 1145.6 1643.5 1144.4 1648 1143.7C1652.5 1143 1654.4 1142.1 1657 1142.4C1659.6 1142.7 1661.7 1143.2 1663.4 1145.5C1665.1 1147.8 1666.2 1151.2 1667 1156.3C1667.8 1161.4 1667.9 1158.7 1668.2 1176.1C1668.5 1193.5 1668.7 1240 1668.8 1260.7C1668.9 1281.4 1668.9 1293.5 1668.9 1300L1149.3 1320.7Z" fill="#466be3"/>
<path d="M1149.3 1183C1159.3 1183 1167.5 1183 1209.3 1183C1251.1 1183 1344.9 1183.4 1400 1183.2C1455.1 1183 1507.7 1182.3 1540 1181.9C1572.3 1181.5 1579 1181.3 1594 1180.6C1609 1179.9 1620.4 1178.7 1630 1177.9C1639.6 1177.1 1647 1175.6 1651.7 1175.7C1656.4 1175.8 1656.3 1176.3 1658 1178.8C1659.7 1181.3 1660.6 1185 1661.6 1190.5C1662.6 1196 1663.3 1204 1663.9 1212.1C1664.5 1220.2 1664.9 1231 1665.2 1239.1C1665.5 1247.2 1665.6 1250.5 1665.7 1260.7C1665.8 1270.9 1665.8 1293.5 1665.8 1300L1149.3 1320.7Z" fill="#30123b"/>
</g>
<line x1="1209.3" y1="1098.3" x2="1900.2" y2="1098.3" stroke="#000" stroke-width="1.8"/>
<line x1="1209.3" y1="1130.2" x2="1900.2" y2="1130.2" stroke="#000" stroke-width="1.8"/>
<line x1="1669.3" y1="989.2" x2="1669.3" y2="1098.3" stroke="#000" stroke-width="1.8"/>
<line x1="1669.3" y1="1130.2" x2="1669.3" y2="1260.7" stroke="#000" stroke-width="1.8"/>
<rect x="1209.3" y="989.2" width="690.9" height="271.5" fill="none" stroke="#000" stroke-width="1.9"/>
<rect x="203.5" y="1409.4" width="691.3" height="271.7" fill="#30123b"/>
<g clip-path="url(#c13)">
<rect x="203.5" y="1409.4" width="461.1" height="271.7" fill="#466be3"/>
<path d="M652 1720C652.1 1713.5 652.2 1692.8 652.6 1681.1C653 1669.4 653.6 1659.8 654.4 1650.1C655.1 1640.4 656 1632.1 657.1 1623.1C658.2 1614.1 659.7 1603.6 660.7 1596.1C661.8 1588.6 662.8 1584.1 663.4 1578.1C664 1572.1 664.3 1566.4 664.6 1560.1C664.9 1553.8 664.9 1543.3 665 1540L665 1349.4L143.5 1349.4L143.5 1741.1Z" fill="#28bbec"/>
<path d="M637 1720C637.1 1713.5 637.2 1692.8 637.8 1681.1C638.4 1669.4 639.4 1661.3 640.8 1650.1C642.2 1638.9 644.2 1624.6 646.2 1614.1C648.2 1603.6 650.8 1596.1 652.6 1587.1C654.4 1578.1 655.9 1569.1 657.1 1560.1C658.3 1551.1 659.1 1539.7 659.8 1533.1C660.4 1526.5 660.7 1528 661 1520.5C661.3 1513 661.4 1506.5 661.6 1488C661.9 1469.5 662.3 1427.7 662.5 1409.7C662.7 1391.7 662.6 1385 662.6 1380L143.5 1349.4L143.5 1741.1Z" fill="#32f298"/>
<path d="M143.5 1637C153.5 1637 177.8 1637.1 203.5 1637C229.2 1636.9 270.2 1637 298 1636.6C325.8 1636.2 343 1635.8 370 1634.8C397 1633.8 431.7 1631.9 460 1630.3C488.3 1628.7 520.7 1626.2 540 1625.2C559.3 1624.2 564.9 1624.3 576 1624C587.1 1623.7 599.1 1624.1 606.6 1623.1C614.1 1622 616.5 1620.1 621 1617.7C625.5 1615.3 629.7 1612.9 633.6 1608.7C637.5 1604.5 641.4 1598.2 644.4 1592.5C647.4 1586.8 649.9 1581.4 651.7 1574.5C653.5 1567.6 654.4 1560.1 655.3 1551.1C656.2 1542.1 656.6 1531 657.1 1520.5C657.6 1510 657.6 1500.9 658 1488C658.4 1475.1 658.9 1456 659.2 1443C659.6 1430 659.9 1420.2 660.1 1409.7C660.3 1399.2 660.3 1385 660.3 1380L143.5 1349.4Z" fill="#a4fc3c"/>
<path d="M143.5 1592.9C153.5 1592.9 165.8 1593.1 203.5 1592.9C241.2 1592.7 327.2 1592.1 370 1591.6C412.8 1591.1 431.7 1590.4 460 1589.8C488.3 1589.2 520.7 1588.5 540 1588C559.3 1587.5 565.5 1587.5 576 1587.1C586.5 1586.6 595.5 1586.5 603 1585.3C610.5 1584.1 615.3 1582.3 621 1579.9C626.7 1577.5 633 1574.2 637.2 1570.9C641.4 1567.6 643.9 1564.9 646.2 1560.1C648.5 1555.3 649.7 1548.7 650.8 1542.1C651.9 1535.5 652 1529.5 652.6 1520.5C653.2 1511.5 653.8 1500.9 654.4 1488C655 1475.1 655.8 1456 656.2 1443C656.7 1430 656.9 1420.2 657.1 1409.7C657.3 1399.2 657.3 1385 657.3 1380L143.5 1349.4Z" fill="#eecf3a"/>
<path d="M143.5 1565.1C153.5 1565.1 160.8 1565.2 203.5 1565.1C246.2 1565 343.9 1564.4 400 1564.3C456.1 1564.2 512.2 1564.5 540 1564.6C567.8 1564.6 558 1564.5 567 1564.6C576 1564.7 586.5 1565.4 594 1565.3C601.5 1565.2 606.9 1564.6 612 1563.7C617.1 1562.8 621 1561.9 624.6 1560.1C628.2 1558.3 631.2 1555.9 633.6 1552.9C636 1549.9 637.5 1547.5 639 1542.1C640.5 1536.7 641.4 1529.5 642.6 1520.5C643.8 1511.5 645 1500.9 646.2 1488C647.4 1475.1 648.9 1456 649.8 1443C650.6 1430 651 1420.2 651.3 1409.7C651.6 1399.2 651.5 1385 651.5 1380L143.5 1349.4Z" fill="#fb8022"/>
<path d="M143.5 1516.3C153.5 1516.3 160.8 1516.5 203.5 1516.3C246.2 1516.1 348.2 1515.3 400 1515C451.8 1514.7 490.7 1514.2 514 1514.2C537.3 1514.2 532.7 1514.5 540 1515C547.3 1515.5 552 1516 558 1517.5C564 1519 570 1521.8 576 1524.1C582 1526.4 588.9 1529.8 594 1531.3C599.1 1532.8 602.7 1533.5 606.6 1533.1C610.5 1532.6 614.4 1530.7 617.4 1528.6C620.4 1526.5 622.5 1524.2 624.6 1520.5C626.7 1516.8 628.2 1513 630 1506.1C631.8 1499.2 633.6 1489.5 635.4 1479C637.2 1468.5 639.3 1454.5 640.8 1443C642.3 1431.5 643.7 1420.2 644.4 1409.7C645.1 1399.2 644.7 1385 644.8 1380L143.5 1349.4Z" fill="#d23105"/>
<path d="M143.5 1460.1C153.5 1460.1 165.8 1460.4 203.5 1460.1C241.2 1459.8 327.2 1458.6 370 1458.3C412.8 1458 436 1457.5 460 1458.3C484 1459 499.8 1460.9 514 1462.8C528.2 1464.7 537.7 1467.7 545 1469.5C552.3 1471.3 551.3 1471.4 558 1473.6C564.7 1475.8 577.5 1480.2 585 1482.6C592.5 1485 597.9 1487.2 603 1488C608.1 1488.8 612 1488.3 615.6 1487.1C619.2 1485.9 622.2 1483.9 624.6 1480.8C627 1477.7 628.5 1473 630 1468.2C631.5 1463.4 632.6 1458.3 633.6 1452C634.6 1445.7 635.5 1437.5 636.3 1430.4C637 1423.4 637.7 1418.1 638.1 1409.7C638.5 1401.3 638.4 1385 638.5 1380L143.5 1349.4Z" fill="#7a0403"/>
</g>
<g clip-path="url(#c14)">
<path d="M688 1380C688 1385 688 1391.7 688 1409.7C688 1427.7 687.9 1469.5 687.7 1488C687.5 1506.5 687.2 1510.1 686.8 1520.5C686.3 1530.9 685.8 1543.9 685 1550.5C684.2 1557.1 683.6 1556.1 682.3 1560.1C680.9 1564.1 678.5 1570 676.9 1574.5C675.2 1579 673.8 1582 672.4 1587.1C671 1592.2 669.8 1599.1 668.8 1605.1C667.8 1611.1 666.8 1617.1 666.1 1623.1C665.4 1629.1 665 1634.9 664.6 1641.1C664.2 1647.2 663.7 1656.8 663.5 1660L650 1660L650 1380Z" fill="#466be3"/>
<rect x="664.6" y="1519" width="1.6" height="31.5" fill="#28bbec"/>
</g>
<line x1="203.5" y1="1519" x2="894.8" y2="1519" stroke="#000" stroke-width="1.8"/>
<line x1="203.5" y1="1550.5" x2="894.8" y2="1550.5" stroke="#000" stroke-width="1.8"/>
<line x1="664.6" y1="1409.4" x2="664.6" y2="1519" stroke="#000" stroke-width="1.8"/>
<line x1="664.6" y1="1550.5" x2="664.6" y2="1681.1" stroke="#000" stroke-width="1.8"/>
<rect x="203.5" y="1409.4" width="691.3" height="271.7" fill="none" stroke="#000" stroke-width="1.9"/>
<rect x="1209.3" y="1409.4" width="574.2" height="271.7" fill="#fb8022"/>
<rect x="1783.5" y="1409.4" width="116.7" height="271.7" fill="#eecf3a"/>
<g clip-path="url(#c15)">
<path d="M1149.3 1503.9C1159.3 1503.9 1167.5 1504 1209.3 1503.9C1251.1 1503.9 1344.9 1503.7 1400 1503.6C1455.1 1503.5 1507.7 1503.2 1540 1503.2C1572.3 1503.2 1580.5 1503.7 1594 1503.4C1607.5 1503.1 1613.2 1502.8 1621 1501.6C1628.8 1500.4 1635.7 1498.5 1640.8 1496.2C1645.9 1493.9 1648.7 1491.8 1651.7 1488C1654.7 1484.2 1657.1 1479.6 1658.9 1473.6C1660.7 1467.6 1661.6 1460.1 1662.5 1452C1663.4 1443.9 1663.8 1432 1664.3 1425C1664.8 1418 1665 1417.2 1665.2 1409.7C1665.4 1402.2 1665.4 1385 1665.4 1380L1149.3 1349.4Z" fill="#d23105"/>
<path d="M1149.3 1559.7C1159.3 1559.7 1167.5 1559.7 1209.3 1559.7C1251.1 1559.7 1344.9 1559.6 1400 1559.5C1455.1 1559.4 1507.7 1559.2 1540 1559.2C1572.3 1559.2 1579 1559.5 1594 1559.2C1609 1558.9 1621 1558.2 1630 1557.4C1639 1556.7 1642.6 1555.5 1648 1554.7C1653.4 1553.9 1659 1553.1 1662.5 1552.5C1666 1551.9 1663 1552.2 1669.3 1551.1C1675.5 1550 1694.9 1546.8 1700 1546L1700 1741.1L1149.3 1741.1Z" fill="#eecf3a"/>
<path d="M1149.3 1586.2C1159.3 1586.2 1167.5 1586.2 1209.3 1586.2C1251.1 1586.2 1344.9 1586.2 1400 1586.2C1455.1 1586.2 1507.7 1586.3 1540 1586.2C1572.3 1586.1 1579 1586 1594 1585.7C1609 1585.4 1620.4 1584.9 1630 1584.4C1639.6 1583.9 1646.9 1582.4 1651.7 1582.6C1656.5 1582.8 1657.1 1583 1658.9 1585.3C1660.7 1587.5 1661.5 1589.8 1662.5 1596.1C1663.5 1602.4 1664.5 1614.1 1665.2 1623.1C1665.9 1632.1 1666.2 1640.4 1666.6 1650.1C1667 1659.8 1667.3 1669.4 1667.5 1681.1C1667.7 1692.8 1667.7 1713.5 1667.7 1720L1149.3 1741.1Z" fill="#a4fc3c"/>
<path d="M1149.3 1627.1C1159.3 1627.1 1167.5 1627.1 1209.3 1627.1C1251.1 1627.1 1344.9 1627.2 1400 1627.2C1455.1 1627.2 1507.7 1627.2 1540 1627.1C1572.3 1627 1579 1627.1 1594 1626.7C1609 1626.3 1621 1625.5 1630 1624.9C1639 1624.3 1643.8 1622.8 1648 1623.1C1652.2 1623.4 1653.4 1623.7 1655.2 1626.7C1657 1629.7 1658 1635.7 1658.9 1641.1C1659.8 1646.5 1660.2 1652.4 1660.7 1659.1C1661.2 1665.8 1661.8 1670.9 1662.1 1681.1C1662.4 1691.2 1662.4 1713.5 1662.4 1720L1149.3 1741.1Z" fill="#32f298"/>
</g>
<g clip-path="url(#c16)">
<path d="M1672.5 1540C1672.8 1541.8 1673.2 1546.2 1674.2 1551.1C1675.2 1555.9 1677.4 1561.6 1678.7 1569.1C1680 1576.6 1681.4 1585.6 1682.3 1596.1C1683.2 1606.6 1683.6 1621.6 1684.1 1632.1C1684.6 1642.6 1685.2 1650.9 1685.5 1659.1C1685.8 1667.3 1686 1670.9 1686.2 1681.1C1686.4 1691.2 1686.5 1713.5 1686.5 1720L1650 1720L1650 1540Z" fill="#eecf3a"/>
</g>
<line x1="1209.3" y1="1519" x2="1900.2" y2="1519" stroke="#000" stroke-width="1.8"/>
<line x1="1209.3" y1="1550.5" x2="1900.2" y2="1550.5" stroke="#000" stroke-width="1.8"/>
<line x1="1669.3" y1="1409.4" x2="1669.3" y2="1519" stroke="#000" stroke-width="1.8"/>
<line x1="1669.3" y1="1550.5" x2="1669.3" y2="1681.1" stroke="#000" stroke-width="1.8"/>
<rect x="1209.3" y="1409.4" width="690.9" height="271.7" fill="none" stroke="#000" stroke-width="1.9"/>
<rect x="631.2" y="116.2" width="44.2" height="128.5" fill="none" stroke="#000" stroke-width="2"/>
<line x1="631.2" y1="116.2" x2="729.8" y2="156.9" stroke="#000" stroke-width="2"/>
<line x1="675.4" y1="116.2" x2="869.2" y2="156.9" stroke="#000" stroke-width="2"/>
<line x1="631.2" y1="244.7" x2="729.8" y2="346" stroke="#000" stroke-width="2"/>
<line x1="675.4" y1="244.7" x2="869.2" y2="346" stroke="#000" stroke-width="2"/>
<g clip-path="url(#c17)">
<rect x="729.8" y="156.9" width="139.4" height="189.1" fill="#30123b"/>
<path d="M793.1 138.7L793.7 157.9L795.6 172.5L795.2 195L792 213L786.4 226.5L781.3 234.4L772.9 243.4L762.8 251.3L747 259.2L730.7 263.1L708.7 265.9L669.8 406L929.2 406L929.2 96.9Z" fill="#466be3"/>
<path d="M822.6 138.7L822.6 157.9L822.6 195L820.7 222L817.3 245.7L812.3 255.8L805.5 265.9L783 288.4L765 295.2L745.9 300.8L730.7 304.2L708.7 307L669.8 406L929.2 406L929.2 96.9Z" fill="#28bbec"/>
<path d="M835.9 138.7L835.9 157.9L835.9 195L834.6 240L830.8 262.5L824.7 280.5L816.8 295.2L798.8 307.6L783 317.7L759.4 325.6L741.4 330.1L730.7 331.2L708.7 332.9L669.8 406L929.2 406L929.2 96.9Z" fill="#32f298"/>
<path d="M844 138.7L844 157.9L843.8 217.5L842.1 256.9L837 285L831.4 300.8L817.9 323.3L797.7 335.7L778.5 345.3L753.8 358.2L669.8 406L929.2 406L929.2 96.9Z" fill="#a4fc3c"/>
<path d="M852.2 138.7L852.2 157.9L851.9 228.8L850.5 262.5L848.3 285L843.8 305.3L837 323.3L828 336.8L820.2 345.3L810 358.2L669.8 406L929.2 406L929.2 96.9Z" fill="#eecf3a"/>
<path d="M856.2 138.7L856.2 157.9L855.9 240L855 273.8L852.8 307.6L849.4 323.3L843.8 337.9L839.3 345.3L832.5 358.2L669.8 406L929.2 406L929.2 96.9Z" fill="#fb8022"/>
<path d="M860.7 138.7L860.7 157.9L860.4 262.5L859 307.6L856.7 330.1L852.8 345.3L849.4 358.2L669.8 406L929.2 406L929.2 96.9Z" fill="#d23105"/>
<path d="M864.6 138.7L864.6 157.9L864.6 285L864 318.8L862.7 345.3L861.8 358.2L669.8 406L929.2 406L929.2 96.9Z" fill="#7a0403"/>
</g>
<rect x="729.8" y="156.9" width="139.4" height="189.1" fill="none" stroke="#000" stroke-width="1.9"/>
<rect x="1636.2" y="116.8" width="44.2" height="128.2" fill="none" stroke="#000" stroke-width="2"/>
<line x1="1636.2" y1="116.8" x2="1735.2" y2="157.2" stroke="#000" stroke-width="2"/>
<line x1="1680.4" y1="116.8" x2="1874.4" y2="157.2" stroke="#000" stroke-width="2"/>
<line x1="1636.2" y1="245" x2="1735.2" y2="345.6" stroke="#000" stroke-width="2"/>
<line x1="1680.4" y1="245" x2="1874.4" y2="345.6" stroke="#000" stroke-width="2"/>
<g clip-path="url(#c18)">
<rect x="1735.2" y="157.2" width="139.2" height="188.4" fill="#30123b"/>
<path d="M1840.7 138.7L1840.9 157.7L1842.3 172.5L1842 206.3L1839.8 228.8L1834.7 245.7L1828.5 255.8L1822.3 262L1803.8 267.6L1785.8 270.4L1758.8 270.6L1735.7 270.2L1713.7 270L1675.2 405.6L1934.4 405.6L1934.4 97.2Z" fill="#466be3"/>
<path d="M1855.8 138.7L1855.8 157.7L1856.1 206.3L1854.4 240L1851 262.5L1846.5 279.4L1839.8 290.7L1822.9 301.4L1803.8 303.6L1770 304.4L1735.7 304L1713.7 303.7L1675.2 405.6L1934.4 405.6L1934.4 97.2Z" fill="#28bbec"/>
<path d="M1864 138.7L1864 157.7L1864 228.8L1862.9 262.5L1860.6 290.7L1855.5 307.6L1846.5 317.7L1835.3 324.4L1821.8 328.1L1792.5 329.2L1735.7 328.7L1713.7 328.5L1675.2 405.6L1934.4 405.6L1934.4 97.2Z" fill="#32f298"/>
<path d="M1871 138.7L1871 157.7L1871 262.5L1869.6 307.6L1865.7 332.3L1860 340.2L1848.8 345.3L1826.3 355.9L1675.2 405.6L1934.4 405.6L1934.4 97.2Z" fill="#a4fc3c"/>
</g>
<rect x="1735.2" y="157.2" width="139.2" height="188.4" fill="none" stroke="#000" stroke-width="1.9"/>
<line x1="73.8" y1="0" x2="73.8" y2="1777" stroke="#000" stroke-width="3"/>
<line x1="1081.5" y1="1" x2="1081.5" y2="1773" stroke="#000" stroke-width="3"/>
<line x1="2" y1="60.5" x2="2065.2" y2="60.5" stroke="#000" stroke-width="3.3"/>
<line x1="2" y1="505" x2="2065.2" y2="505" stroke="#000" stroke-width="2.4"/>
<line x1="2" y1="1359.3" x2="2065.2" y2="1359.3" stroke="#000" stroke-width="3"/>
<text x="386.1" y="47.7" font-size="45" fill="#000" stroke="#000" stroke-width="0.5" textLength="305.8" lengthAdjust="spacingAndGlyphs">Anode Overhang</text>
<text x="1387" y="47.7" font-size="45" fill="#000" stroke="#000" stroke-width="0.5" textLength="328.7" lengthAdjust="spacingAndGlyphs">Perfect Alignment</text>
<text x="41" y="416" font-size="45" fill="#000" stroke="#000" stroke-width="0.5" textLength="290" lengthAdjust="spacingAndGlyphs" transform="rotate(-90 41 416)">Begin of Charge</text>
<text x="41" y="1035.2" font-size="45" fill="#000" stroke="#000" stroke-width="0.5" textLength="264" lengthAdjust="spacingAndGlyphs" transform="rotate(-90 41 1035.2)">End of Charge</text>
<text x="41.4" y="1636.4" font-size="45" fill="#000" stroke="#000" stroke-width="0.5" textLength="135.3" lengthAdjust="spacingAndGlyphs" transform="rotate(-90 41.4 1636.4)">Cycling</text>
<text x="234" y="111" font-size="31" fill="#000" stroke="#000" stroke-width="0.2" textLength="619" lengthAdjust="spacingAndGlyphs">a) Absolute De-/Intercalation Rate - Overhang</text>
<text x="204.9" y="443" font-size="31.2" fill="#262626" stroke="#262626" stroke-width="0.2" text-anchor="middle" textLength="29.3" lengthAdjust="spacingAndGlyphs">21</text>
<text x="320.1" y="443" font-size="31.2" fill="#262626" stroke="#262626" stroke-width="0.2" text-anchor="middle" textLength="29.3" lengthAdjust="spacingAndGlyphs">22</text>
<text x="435.3" y="443" font-size="31.2" fill="#262626" stroke="#262626" stroke-width="0.2" text-anchor="middle" textLength="29.3" lengthAdjust="spacingAndGlyphs">23</text>
<text x="550.5" y="443" font-size="31.2" fill="#262626" stroke="#262626" stroke-width="0.2" text-anchor="middle" textLength="29.3" lengthAdjust="spacingAndGlyphs">24</text>
<text x="665.7" y="443" font-size="31.2" fill="#262626" stroke="#262626" stroke-width="0.2" text-anchor="middle" textLength="29.3" lengthAdjust="spacingAndGlyphs">25</text>
<text x="780.9" y="443" font-size="31.2" fill="#262626" stroke="#262626" stroke-width="0.2" text-anchor="middle" textLength="29.3" lengthAdjust="spacingAndGlyphs">26</text>
<text x="896.1" y="443" font-size="31.2" fill="#262626" stroke="#262626" stroke-width="0.2" text-anchor="middle" textLength="29.3" lengthAdjust="spacingAndGlyphs">27</text>
<text x="466.6" y="482.7" font-size="31" fill="#262626" stroke="#262626" stroke-width="0.2" textLength="168" lengthAdjust="spacingAndGlyphs">Width / mm</text>
<text x="177.6" y="412.3" font-size="31.2" fill="#262626" stroke="#262626" stroke-width="0.2" textLength="15.6" lengthAdjust="spacingAndGlyphs">0</text>
<text x="162.8" y="346.6" font-size="31.2" fill="#262626" stroke="#262626" stroke-width="0.2" textLength="30.4" lengthAdjust="spacingAndGlyphs">40</text>
<text x="162.8" y="280.9" font-size="31.2" fill="#262626" stroke="#262626" stroke-width="0.2" textLength="30.4" lengthAdjust="spacingAndGlyphs">80</text>
<text x="147" y="215.2" font-size="31.2" fill="#262626" stroke="#262626" stroke-width="0.2" textLength="46.2" lengthAdjust="spacingAndGlyphs">120</text>
<text x="147" y="149.5" font-size="31.2" fill="#262626" stroke="#262626" stroke-width="0.2" textLength="46.2" lengthAdjust="spacingAndGlyphs">160</text>
<text x="125" y="366.9" font-size="31" fill="#262626" stroke="#262626" stroke-width="0.2" textLength="204.5" lengthAdjust="spacingAndGlyphs" transform="rotate(-90 125 366.9)">Thickness / <tspan font-style="italic">µ</tspan>m</text>
<text x="1219.3" y="111" font-size="31" fill="#000" stroke="#000" stroke-width="0.2" textLength="667.7" lengthAdjust="spacingAndGlyphs">b) Absolute De-/Intercalation Rate - No Overhang</text>
<text x="1210.2" y="443" font-size="31.2" fill="#262626" stroke="#262626" stroke-width="0.2" text-anchor="middle" textLength="29.3" lengthAdjust="spacingAndGlyphs">21</text>
<text x="1325.3" y="443" font-size="31.2" fill="#262626" stroke="#262626" stroke-width="0.2" text-anchor="middle" textLength="29.3" lengthAdjust="spacingAndGlyphs">22</text>
<text x="1440.4" y="443" font-size="31.2" fill="#262626" stroke="#262626" stroke-width="0.2" text-anchor="middle" textLength="29.3" lengthAdjust="spacingAndGlyphs">23</text>
<text x="1555.6" y="443" font-size="31.2" fill="#262626" stroke="#262626" stroke-width="0.2" text-anchor="middle" textLength="29.3" lengthAdjust="spacingAndGlyphs">24</text>
<text x="1670.7" y="443" font-size="31.2" fill="#262626" stroke="#262626" stroke-width="0.2" text-anchor="middle" textLength="29.3" lengthAdjust="spacingAndGlyphs">25</text>
<text x="1785.8" y="443" font-size="31.2" fill="#262626" stroke="#262626" stroke-width="0.2" text-anchor="middle" textLength="29.3" lengthAdjust="spacingAndGlyphs">26</text>
<text x="1900.9" y="443" font-size="31.2" fill="#262626" stroke="#262626" stroke-width="0.2" text-anchor="middle" textLength="29.3" lengthAdjust="spacingAndGlyphs">27</text>
<text x="1471.7" y="482.7" font-size="31" fill="#262626" stroke="#262626" stroke-width="0.2" textLength="168" lengthAdjust="spacingAndGlyphs">Width / mm</text>
<text x="1182.6" y="412.3" font-size="31.2" fill="#262626" stroke="#262626" stroke-width="0.2" textLength="15.6" lengthAdjust="spacingAndGlyphs">0</text>
<text x="1167.8" y="346.7" font-size="31.2" fill="#262626" stroke="#262626" stroke-width="0.2" textLength="30.4" lengthAdjust="spacingAndGlyphs">40</text>
<text x="1167.8" y="281" font-size="31.2" fill="#262626" stroke="#262626" stroke-width="0.2" textLength="30.4" lengthAdjust="spacingAndGlyphs">80</text>
<text x="1152" y="215.4" font-size="31.2" fill="#262626" stroke="#262626" stroke-width="0.2" textLength="46.2" lengthAdjust="spacingAndGlyphs">120</text>
<text x="1152" y="149.7" font-size="31.2" fill="#262626" stroke="#262626" stroke-width="0.2" textLength="46.2" lengthAdjust="spacingAndGlyphs">160</text>
<text x="212.1" y="549.5" font-size="31" fill="#000" stroke="#000" stroke-width="0.2" textLength="642.9" lengthAdjust="spacingAndGlyphs">c) Average local Degree of Lithiation - Overhang</text>
<text x="204.9" y="883.1" font-size="31.2" fill="#262626" stroke="#262626" stroke-width="0.2" text-anchor="middle" textLength="29.3" lengthAdjust="spacingAndGlyphs">21</text>
<text x="320.1" y="883.1" font-size="31.2" fill="#262626" stroke="#262626" stroke-width="0.2" text-anchor="middle" textLength="29.3" lengthAdjust="spacingAndGlyphs">22</text>
<text x="435.4" y="883.1" font-size="31.2" fill="#262626" stroke="#262626" stroke-width="0.2" text-anchor="middle" textLength="29.3" lengthAdjust="spacingAndGlyphs">23</text>
<text x="550.6" y="883.1" font-size="31.2" fill="#262626" stroke="#262626" stroke-width="0.2" text-anchor="middle" textLength="29.3" lengthAdjust="spacingAndGlyphs">24</text>
<text x="665.8" y="883.1" font-size="31.2" fill="#262626" stroke="#262626" stroke-width="0.2" text-anchor="middle" textLength="29.3" lengthAdjust="spacingAndGlyphs">25</text>
<text x="781.1" y="883.1" font-size="31.2" fill="#262626" stroke="#262626" stroke-width="0.2" text-anchor="middle" textLength="29.3" lengthAdjust="spacingAndGlyphs">26</text>
<text x="896.3" y="883.1" font-size="31.2" fill="#262626" stroke="#262626" stroke-width="0.2" text-anchor="middle" textLength="29.3" lengthAdjust="spacingAndGlyphs">27</text>
<text x="466.7" y="922.8" font-size="31" fill="#262626" stroke="#262626" stroke-width="0.2" textLength="168" lengthAdjust="spacingAndGlyphs">Width / mm</text>
<text x="177.2" y="852.4" font-size="31.2" fill="#262626" stroke="#262626" stroke-width="0.2" textLength="15.6" lengthAdjust="spacingAndGlyphs">0</text>
<text x="162.4" y="786.5" font-size="31.2" fill="#262626" stroke="#262626" stroke-width="0.2" textLength="30.4" lengthAdjust="spacingAndGlyphs">40</text>
<text x="162.4" y="720.6" font-size="31.2" fill="#262626" stroke="#262626" stroke-width="0.2" textLength="30.4" lengthAdjust="spacingAndGlyphs">80</text>
<text x="146.6" y="654.8" font-size="31.2" fill="#262626" stroke="#262626" stroke-width="0.2" textLength="46.2" lengthAdjust="spacingAndGlyphs">120</text>
<text x="146.6" y="588.9" font-size="31.2" fill="#262626" stroke="#262626" stroke-width="0.2" textLength="46.2" lengthAdjust="spacingAndGlyphs">160</text>
<text x="125" y="806.5" font-size="31" fill="#262626" stroke="#262626" stroke-width="0.2" textLength="204.5" lengthAdjust="spacingAndGlyphs" transform="rotate(-90 125 806.5)">Thickness / <tspan font-style="italic">µ</tspan>m</text>
<text x="1206" y="549.5" font-size="31" fill="#000" stroke="#000" stroke-width="0.2" textLength="693" lengthAdjust="spacingAndGlyphs">d) Average local Degree of Lithiation - No Overhang</text>
<text x="1210.1" y="883.1" font-size="31.2" fill="#262626" stroke="#262626" stroke-width="0.2" text-anchor="middle" textLength="29.3" lengthAdjust="spacingAndGlyphs">21</text>
<text x="1325.2" y="883.1" font-size="31.2" fill="#262626" stroke="#262626" stroke-width="0.2" text-anchor="middle" textLength="29.3" lengthAdjust="spacingAndGlyphs">22</text>
<text x="1440.3" y="883.1" font-size="31.2" fill="#262626" stroke="#262626" stroke-width="0.2" text-anchor="middle" textLength="29.3" lengthAdjust="spacingAndGlyphs">23</text>
<text x="1555.4" y="883.1" font-size="31.2" fill="#262626" stroke="#262626" stroke-width="0.2" text-anchor="middle" textLength="29.3" lengthAdjust="spacingAndGlyphs">24</text>
<text x="1670.5" y="883.1" font-size="31.2" fill="#262626" stroke="#262626" stroke-width="0.2" text-anchor="middle" textLength="29.3" lengthAdjust="spacingAndGlyphs">25</text>
<text x="1785.6" y="883.1" font-size="31.2" fill="#262626" stroke="#262626" stroke-width="0.2" text-anchor="middle" textLength="29.3" lengthAdjust="spacingAndGlyphs">26</text>
<text x="1900.7" y="883.1" font-size="31.2" fill="#262626" stroke="#262626" stroke-width="0.2" text-anchor="middle" textLength="29.3" lengthAdjust="spacingAndGlyphs">27</text>
<text x="1471.5" y="922.8" font-size="31" fill="#262626" stroke="#262626" stroke-width="0.2" textLength="168" lengthAdjust="spacingAndGlyphs">Width / mm</text>
<text x="1182.2" y="852.4" font-size="31.2" fill="#262626" stroke="#262626" stroke-width="0.2" textLength="15.6" lengthAdjust="spacingAndGlyphs">0</text>
<text x="1167.4" y="786.5" font-size="31.2" fill="#262626" stroke="#262626" stroke-width="0.2" textLength="30.4" lengthAdjust="spacingAndGlyphs">40</text>
<text x="1167.4" y="720.6" font-size="31.2" fill="#262626" stroke="#262626" stroke-width="0.2" textLength="30.4" lengthAdjust="spacingAndGlyphs">80</text>
<text x="1151.6" y="654.8" font-size="31.2" fill="#262626" stroke="#262626" stroke-width="0.2" textLength="46.2" lengthAdjust="spacingAndGlyphs">120</text>
<text x="1151.6" y="588.9" font-size="31.2" fill="#262626" stroke="#262626" stroke-width="0.2" textLength="46.2" lengthAdjust="spacingAndGlyphs">160</text>
<text x="1130.2" y="806.5" font-size="31" fill="#262626" stroke="#262626" stroke-width="0.2" textLength="204.5" lengthAdjust="spacingAndGlyphs" transform="rotate(-90 1130.2 806.5)">Thickness / <tspan font-style="italic">µ</tspan>m</text>
<text x="282" y="978" font-size="31" fill="#000" stroke="#000" stroke-width="0.2" textLength="534" lengthAdjust="spacingAndGlyphs">e) Electrolyte Concentration - Overhang</text>
<text x="203.4" y="1300.6" font-size="31.2" fill="#262626" stroke="#262626" stroke-width="0.2" text-anchor="middle" textLength="29.3" lengthAdjust="spacingAndGlyphs">21</text>
<text x="318.6" y="1300.6" font-size="31.2" fill="#262626" stroke="#262626" stroke-width="0.2" text-anchor="middle" textLength="29.3" lengthAdjust="spacingAndGlyphs">22</text>
<text x="433.8" y="1300.6" font-size="31.2" fill="#262626" stroke="#262626" stroke-width="0.2" text-anchor="middle" textLength="29.3" lengthAdjust="spacingAndGlyphs">23</text>
<text x="549" y="1300.6" font-size="31.2" fill="#262626" stroke="#262626" stroke-width="0.2" text-anchor="middle" textLength="29.3" lengthAdjust="spacingAndGlyphs">24</text>
<text x="664.3" y="1300.6" font-size="31.2" fill="#262626" stroke="#262626" stroke-width="0.2" text-anchor="middle" textLength="29.3" lengthAdjust="spacingAndGlyphs">25</text>
<text x="779.5" y="1300.6" font-size="31.2" fill="#262626" stroke="#262626" stroke-width="0.2" text-anchor="middle" textLength="29.3" lengthAdjust="spacingAndGlyphs">26</text>
<text x="894.7" y="1300.6" font-size="31.2" fill="#262626" stroke="#262626" stroke-width="0.2" text-anchor="middle" textLength="29.3" lengthAdjust="spacingAndGlyphs">27</text>
<text x="465.1" y="1340.3" font-size="31" fill="#262626" stroke="#262626" stroke-width="0.2" textLength="168" lengthAdjust="spacingAndGlyphs">Width / mm</text>
<text x="176.5" y="1269.6" font-size="31.2" fill="#262626" stroke="#262626" stroke-width="0.2" textLength="15.6" lengthAdjust="spacingAndGlyphs">0</text>
<text x="161.7" y="1206.1" font-size="31.2" fill="#262626" stroke="#262626" stroke-width="0.2" textLength="30.4" lengthAdjust="spacingAndGlyphs">40</text>
<text x="161.7" y="1142.5" font-size="31.2" fill="#262626" stroke="#262626" stroke-width="0.2" textLength="30.4" lengthAdjust="spacingAndGlyphs">80</text>
<text x="145.9" y="1079" font-size="31.2" fill="#262626" stroke="#262626" stroke-width="0.2" textLength="46.2" lengthAdjust="spacingAndGlyphs">120</text>
<text x="145.9" y="1015.5" font-size="31.2" fill="#262626" stroke="#262626" stroke-width="0.2" textLength="46.2" lengthAdjust="spacingAndGlyphs">160</text>
<text x="123.5" y="1227.2" font-size="31" fill="#262626" stroke="#262626" stroke-width="0.2" textLength="204.5" lengthAdjust="spacingAndGlyphs" transform="rotate(-90 123.5 1227.2)">Thickness / <tspan font-style="italic">µ</tspan>m</text>
<text x="1267" y="978" font-size="31" fill="#000" stroke="#000" stroke-width="0.2" textLength="579" lengthAdjust="spacingAndGlyphs">f) Electrolyte Concentration - No Overhang</text>
<text x="1209.2" y="1300.6" font-size="31.2" fill="#262626" stroke="#262626" stroke-width="0.2" text-anchor="middle" textLength="29.3" lengthAdjust="spacingAndGlyphs">21</text>
<text x="1324.4" y="1300.6" font-size="31.2" fill="#262626" stroke="#262626" stroke-width="0.2" text-anchor="middle" textLength="29.3" lengthAdjust="spacingAndGlyphs">22</text>
<text x="1439.5" y="1300.6" font-size="31.2" fill="#262626" stroke="#262626" stroke-width="0.2" text-anchor="middle" textLength="29.3" lengthAdjust="spacingAndGlyphs">23</text>
<text x="1554.7" y="1300.6" font-size="31.2" fill="#262626" stroke="#262626" stroke-width="0.2" text-anchor="middle" textLength="29.3" lengthAdjust="spacingAndGlyphs">24</text>
<text x="1669.8" y="1300.6" font-size="31.2" fill="#262626" stroke="#262626" stroke-width="0.2" text-anchor="middle" textLength="29.3" lengthAdjust="spacingAndGlyphs">25</text>
<text x="1785" y="1300.6" font-size="31.2" fill="#262626" stroke="#262626" stroke-width="0.2" text-anchor="middle" textLength="29.3" lengthAdjust="spacingAndGlyphs">26</text>
<text x="1900.1" y="1300.6" font-size="31.2" fill="#262626" stroke="#262626" stroke-width="0.2" text-anchor="middle" textLength="29.3" lengthAdjust="spacingAndGlyphs">27</text>
<text x="1470.8" y="1340.3" font-size="31" fill="#262626" stroke="#262626" stroke-width="0.2" textLength="168" lengthAdjust="spacingAndGlyphs">Width / mm</text>
<text x="1181.5" y="1269.6" font-size="31.2" fill="#262626" stroke="#262626" stroke-width="0.2" textLength="15.6" lengthAdjust="spacingAndGlyphs">0</text>
<text x="1166.7" y="1206.1" font-size="31.2" fill="#262626" stroke="#262626" stroke-width="0.2" textLength="30.4" lengthAdjust="spacingAndGlyphs">40</text>
<text x="1166.7" y="1142.5" font-size="31.2" fill="#262626" stroke="#262626" stroke-width="0.2" textLength="30.4" lengthAdjust="spacingAndGlyphs">80</text>
<text x="1150.9" y="1079" font-size="31.2" fill="#262626" stroke="#262626" stroke-width="0.2" textLength="46.2" lengthAdjust="spacingAndGlyphs">120</text>
<text x="1150.9" y="1015.5" font-size="31.2" fill="#262626" stroke="#262626" stroke-width="0.2" textLength="46.2" lengthAdjust="spacingAndGlyphs">160</text>
<text x="1129.3" y="1227.2" font-size="31" fill="#262626" stroke="#262626" stroke-width="0.2" textLength="204.5" lengthAdjust="spacingAndGlyphs" transform="rotate(-90 1129.3 1227.2)">Thickness / <tspan font-style="italic">µ</tspan>m</text>
<text x="315" y="1397.3" font-size="31" fill="#000" stroke="#000" stroke-width="0.2" textLength="469" lengthAdjust="spacingAndGlyphs">g) Electrolyte Potential - Overhang</text>
<text x="203.4" y="1721" font-size="31.2" fill="#262626" stroke="#262626" stroke-width="0.2" text-anchor="middle" textLength="29.3" lengthAdjust="spacingAndGlyphs">21</text>
<text x="318.6" y="1721" font-size="31.2" fill="#262626" stroke="#262626" stroke-width="0.2" text-anchor="middle" textLength="29.3" lengthAdjust="spacingAndGlyphs">22</text>
<text x="433.8" y="1721" font-size="31.2" fill="#262626" stroke="#262626" stroke-width="0.2" text-anchor="middle" textLength="29.3" lengthAdjust="spacingAndGlyphs">23</text>
<text x="549" y="1721" font-size="31.2" fill="#262626" stroke="#262626" stroke-width="0.2" text-anchor="middle" textLength="29.3" lengthAdjust="spacingAndGlyphs">24</text>
<text x="664.3" y="1721" font-size="31.2" fill="#262626" stroke="#262626" stroke-width="0.2" text-anchor="middle" textLength="29.3" lengthAdjust="spacingAndGlyphs">25</text>
<text x="779.5" y="1721" font-size="31.2" fill="#262626" stroke="#262626" stroke-width="0.2" text-anchor="middle" textLength="29.3" lengthAdjust="spacingAndGlyphs">26</text>
<text x="894.7" y="1721" font-size="31.2" fill="#262626" stroke="#262626" stroke-width="0.2" text-anchor="middle" textLength="29.3" lengthAdjust="spacingAndGlyphs">27</text>
<text x="465.1" y="1760.7" font-size="31" fill="#262626" stroke="#262626" stroke-width="0.2" textLength="168" lengthAdjust="spacingAndGlyphs">Width / mm</text>
<text x="176.3" y="1690" font-size="31.2" fill="#262626" stroke="#262626" stroke-width="0.2" textLength="15.6" lengthAdjust="spacingAndGlyphs">0</text>
<text x="161.5" y="1626.4" font-size="31.2" fill="#262626" stroke="#262626" stroke-width="0.2" textLength="30.4" lengthAdjust="spacingAndGlyphs">40</text>
<text x="161.5" y="1562.8" font-size="31.2" fill="#262626" stroke="#262626" stroke-width="0.2" textLength="30.4" lengthAdjust="spacingAndGlyphs">80</text>
<text x="145.7" y="1499.3" font-size="31.2" fill="#262626" stroke="#262626" stroke-width="0.2" textLength="46.2" lengthAdjust="spacingAndGlyphs">120</text>
<text x="145.7" y="1435.7" font-size="31.2" fill="#262626" stroke="#262626" stroke-width="0.2" textLength="46.2" lengthAdjust="spacingAndGlyphs">160</text>
<text x="123.5" y="1647.5" font-size="31" fill="#262626" stroke="#262626" stroke-width="0.2" textLength="204.5" lengthAdjust="spacingAndGlyphs" transform="rotate(-90 123.5 1647.5)">Thickness / <tspan font-style="italic">µ</tspan>m</text>
<text x="1299" y="1397.3" font-size="31" fill="#000" stroke="#000" stroke-width="0.2" textLength="516" lengthAdjust="spacingAndGlyphs">h) Electrolyte Potential - No Overhang</text>
<text x="1209.2" y="1721" font-size="31.2" fill="#262626" stroke="#262626" stroke-width="0.2" text-anchor="middle" textLength="29.3" lengthAdjust="spacingAndGlyphs">21</text>
<text x="1324.4" y="1721" font-size="31.2" fill="#262626" stroke="#262626" stroke-width="0.2" text-anchor="middle" textLength="29.3" lengthAdjust="spacingAndGlyphs">22</text>
<text x="1439.5" y="1721" font-size="31.2" fill="#262626" stroke="#262626" stroke-width="0.2" text-anchor="middle" textLength="29.3" lengthAdjust="spacingAndGlyphs">23</text>
<text x="1554.7" y="1721" font-size="31.2" fill="#262626" stroke="#262626" stroke-width="0.2" text-anchor="middle" textLength="29.3" lengthAdjust="spacingAndGlyphs">24</text>
<text x="1669.8" y="1721" font-size="31.2" fill="#262626" stroke="#262626" stroke-width="0.2" text-anchor="middle" textLength="29.3" lengthAdjust="spacingAndGlyphs">25</text>
<text x="1785" y="1721" font-size="31.2" fill="#262626" stroke="#262626" stroke-width="0.2" text-anchor="middle" textLength="29.3" lengthAdjust="spacingAndGlyphs">26</text>
<text x="1900.1" y="1721" font-size="31.2" fill="#262626" stroke="#262626" stroke-width="0.2" text-anchor="middle" textLength="29.3" lengthAdjust="spacingAndGlyphs">27</text>
<text x="1470.8" y="1760.7" font-size="31" fill="#262626" stroke="#262626" stroke-width="0.2" textLength="168" lengthAdjust="spacingAndGlyphs">Width / mm</text>
<text x="1181.3" y="1690" font-size="31.2" fill="#262626" stroke="#262626" stroke-width="0.2" textLength="15.6" lengthAdjust="spacingAndGlyphs">0</text>
<text x="1166.5" y="1626.4" font-size="31.2" fill="#262626" stroke="#262626" stroke-width="0.2" textLength="30.4" lengthAdjust="spacingAndGlyphs">40</text>
<text x="1166.5" y="1562.8" font-size="31.2" fill="#262626" stroke="#262626" stroke-width="0.2" textLength="30.4" lengthAdjust="spacingAndGlyphs">80</text>
<text x="1150.7" y="1499.3" font-size="31.2" fill="#262626" stroke="#262626" stroke-width="0.2" textLength="46.2" lengthAdjust="spacingAndGlyphs">120</text>
<text x="1150.7" y="1435.7" font-size="31.2" fill="#262626" stroke="#262626" stroke-width="0.2" textLength="46.2" lengthAdjust="spacingAndGlyphs">160</text>
<text x="1129.3" y="1647.5" font-size="31" fill="#262626" stroke="#262626" stroke-width="0.2" textLength="204.5" lengthAdjust="spacingAndGlyphs" transform="rotate(-90 1129.3 1647.5)">Thickness / <tspan font-style="italic">µ</tspan>m</text>
<text x="217.8" y="157.5" font-size="31.5" fill="#fff" stroke="#fff" stroke-width="0.2">C</text>
<text x="217.8" y="265" font-size="31.5" fill="#000" stroke="#000" stroke-width="0.2">S</text>
<text x="217.8" y="396.7" font-size="31.5" fill="#fff" stroke="#fff" stroke-width="0.2">A</text>
<text x="683.3" y="231.4" font-size="31.5" fill="#000" stroke="#000" stroke-width="0.2">E</text>
<text x="677.9" y="396.7" font-size="31.5" fill="#fff" stroke="#fff" stroke-width="0.2" textLength="44" lengthAdjust="spacingAndGlyphs">OH</text>
<text x="1223.1" y="157.7" font-size="31.5" fill="#fff" stroke="#fff" stroke-width="0.2">C</text>
<text x="1223.1" y="265" font-size="31.5" fill="#000" stroke="#000" stroke-width="0.2">S</text>
<text x="1223.1" y="396.7" font-size="31.5" fill="#fff" stroke="#fff" stroke-width="0.2">A</text>
<text x="1688.9" y="231.4" font-size="31.5" fill="#000" stroke="#000" stroke-width="0.2">E</text>
<text x="1683.8" y="396.7" font-size="31.5" fill="#000" stroke="#000" stroke-width="0.2">E</text>
<text x="217.8" y="596.8" font-size="31.5" fill="#fff" stroke="#fff" stroke-width="0.2">C</text>
<text x="217.8" y="704.9" font-size="31.5" fill="#000" stroke="#000" stroke-width="0.2">S</text>
<text x="217.8" y="836.8" font-size="31.5" fill="#000" stroke="#000" stroke-width="0.2">A</text>
<text x="677.8" y="596.8" font-size="31.5" fill="#000" stroke="#000" stroke-width="0.2">E</text>
<text x="677.8" y="836.8" font-size="31.5" fill="#fff" stroke="#fff" stroke-width="0.2" textLength="44" lengthAdjust="spacingAndGlyphs">OH</text>
<text x="1223" y="596.8" font-size="31.5" fill="#fff" stroke="#fff" stroke-width="0.2">C</text>
<text x="1223" y="703.6" font-size="31.5" fill="#000" stroke="#000" stroke-width="0.2">S</text>
<text x="1223" y="836.8" font-size="31.5" fill="#000" stroke="#000" stroke-width="0.2">A</text>
<text x="1682.3" y="596.8" font-size="31.5" fill="#000" stroke="#000" stroke-width="0.2">E</text>
<text x="1682.3" y="836.8" font-size="31.5" fill="#000" stroke="#000" stroke-width="0.2">E</text>
<text x="216.3" y="1022.5" font-size="31.5" fill="#000" stroke="#000" stroke-width="0.2">C</text>
<text x="216.3" y="1124.7" font-size="31.5" fill="#000" stroke="#000" stroke-width="0.2">S</text>
<text x="216.3" y="1252.5" font-size="31.5" fill="#fff" stroke="#fff" stroke-width="0.2">A</text>
<text x="848.8" y="1022.5" font-size="31.5" fill="#000" stroke="#000" stroke-width="0.2">E</text>
<text x="677.8" y="1252.5" font-size="31.5" fill="#000" stroke="#000" stroke-width="0.2" textLength="44" lengthAdjust="spacingAndGlyphs">OH</text>
<text x="1222.1" y="1022.5" font-size="31.5" fill="#000" stroke="#000" stroke-width="0.2">C</text>
<text x="1222.1" y="1124.7" font-size="31.5" fill="#000" stroke="#000" stroke-width="0.2">S</text>
<text x="1222.1" y="1252.5" font-size="31.5" fill="#fff" stroke="#fff" stroke-width="0.2">A</text>
<text x="1682.3" y="1022.5" font-size="31.5" fill="#000" stroke="#000" stroke-width="0.2">E</text>
<text x="1682.3" y="1252.5" font-size="31.5" fill="#000" stroke="#000" stroke-width="0.2">E</text>
<text x="216.3" y="1442.7" font-size="31.5" fill="#fff" stroke="#fff" stroke-width="0.2">C</text>
<text x="216.3" y="1545.2" font-size="31.5" fill="#fff" stroke="#fff" stroke-width="0.2">S</text>
<text x="216.3" y="1672.9" font-size="31.5" fill="#000" stroke="#000" stroke-width="0.2">A</text>
<text x="677.8" y="1442.7" font-size="31.5" fill="#fff" stroke="#fff" stroke-width="0.2">E</text>
<text x="677.8" y="1672.9" font-size="31.5" fill="#fff" stroke="#fff" stroke-width="0.2" textLength="44" lengthAdjust="spacingAndGlyphs">OH</text>
<text x="1222.1" y="1442.7" font-size="31.5" fill="#fff" stroke="#fff" stroke-width="0.2">C</text>
<text x="1222.1" y="1545.2" font-size="31.5" fill="#000" stroke="#000" stroke-width="0.2">S</text>
<text x="1222.1" y="1672.9" font-size="31.5" fill="#000" stroke="#000" stroke-width="0.2">A</text>
<text x="1682.3" y="1442.7" font-size="31.5" fill="#000" stroke="#000" stroke-width="0.2">E</text>
<text x="1682.3" y="1672.9" font-size="31.5" fill="#000" stroke="#000" stroke-width="0.2">E</text>
<rect x="940.1" y="123.1" width="44.6" height="31.7" fill="#7a0403"/>
<rect x="940.1" y="154.4" width="44.6" height="31.7" fill="#d23105"/>
<rect x="940.1" y="185.7" width="44.6" height="31.7" fill="#fb8022"/>
<rect x="940.1" y="217.1" width="44.6" height="31.7" fill="#eecf3a"/>
<rect x="940.1" y="248.4" width="44.6" height="31.7" fill="#a4fc3c"/>
<rect x="940.1" y="279.7" width="44.6" height="31.7" fill="#32f298"/>
<rect x="940.1" y="311" width="44.6" height="31.7" fill="#28bbec"/>
<rect x="940.1" y="342.4" width="44.6" height="31.7" fill="#466be3"/>
<rect x="940.1" y="373.7" width="44.6" height="31.7" fill="#30123b"/>
<rect x="940.1" y="123.3" width="44.6" height="281.9" fill="none" stroke="#2b2b2b" stroke-width="1.8"/>
<text x="998.3" y="133.8" font-size="31" fill="#262626" stroke="#262626" stroke-width="0.2" textLength="56.5" lengthAdjust="spacingAndGlyphs">Max</text>
<text x="998.3" y="409.3" font-size="31" fill="#262626" stroke="#262626" stroke-width="0.2" textLength="50.5" lengthAdjust="spacingAndGlyphs">Min</text>
<text x="940" y="110.5" font-size="31" fill="#000" stroke="#000" stroke-width="0.2" textLength="45" lengthAdjust="spacingAndGlyphs">|i<tspan font-style="italic" font-size="20.5" dy="5.5">loc</tspan><tspan dy="-5.5" font-size="31">|</tspan></text>
<rect x="938.6" y="563.3" width="47.8" height="31.4" fill="#7a0403"/>
<rect x="938.6" y="594.3" width="47.8" height="31.4" fill="#d23105"/>
<rect x="938.6" y="625.2" width="47.8" height="31.4" fill="#fb8022"/>
<rect x="938.6" y="656.2" width="47.8" height="31.4" fill="#eecf3a"/>
<rect x="938.6" y="687.2" width="47.8" height="31.4" fill="#a4fc3c"/>
<rect x="938.6" y="718.1" width="47.8" height="31.4" fill="#32f298"/>
<rect x="938.6" y="749.1" width="47.8" height="31.4" fill="#28bbec"/>
<rect x="938.6" y="780.1" width="47.8" height="31.4" fill="#466be3"/>
<rect x="938.6" y="811" width="47.8" height="31.4" fill="#30123b"/>
<rect x="938.6" y="563.5" width="47.8" height="278.7" fill="none" stroke="#2b2b2b" stroke-width="1.8"/>
<text x="1000.3" y="574.2" font-size="31" fill="#262626" stroke="#262626" stroke-width="0.2" textLength="56.5" lengthAdjust="spacingAndGlyphs">Max</text>
<text x="1000.3" y="848.1" font-size="31" fill="#262626" stroke="#262626" stroke-width="0.2" textLength="50.5" lengthAdjust="spacingAndGlyphs">Min</text>
<text x="916.2" y="542.4" font-size="31" fill="#000" stroke="#000" stroke-width="0.2" textLength="107.4" lengthAdjust="spacingAndGlyphs">c<tspan font-style="italic" font-size="20.5" dy="5.5">s</tspan><tspan dy="-5.5">/c</tspan><tspan font-style="italic" font-size="20.5" dy="5.5">s,max</tspan></text>
<rect x="939.5" y="988.4" width="47.2" height="30.7" fill="#7a0403"/>
<rect x="939.5" y="1018.7" width="47.2" height="30.7" fill="#d23105"/>
<rect x="939.5" y="1049" width="47.2" height="30.7" fill="#fb8022"/>
<rect x="939.5" y="1079.4" width="47.2" height="30.7" fill="#eecf3a"/>
<rect x="939.5" y="1109.7" width="47.2" height="30.7" fill="#a4fc3c"/>
<rect x="939.5" y="1140" width="47.2" height="30.7" fill="#32f298"/>
<rect x="939.5" y="1170.3" width="47.2" height="30.7" fill="#28bbec"/>
<rect x="939.5" y="1200.7" width="47.2" height="30.7" fill="#466be3"/>
<rect x="939.5" y="1231" width="47.2" height="30.7" fill="#30123b"/>
<rect x="939.5" y="988.6" width="47.2" height="272.9" fill="none" stroke="#2b2b2b" stroke-width="1.8"/>
<text x="1000.3" y="1000.2" font-size="31" fill="#262626" stroke="#262626" stroke-width="0.2" textLength="56.5" lengthAdjust="spacingAndGlyphs">Max</text>
<text x="1000.3" y="1267.2" font-size="31" fill="#262626" stroke="#262626" stroke-width="0.2" textLength="50.5" lengthAdjust="spacingAndGlyphs">Min</text>
<text x="953.1" y="976" font-size="31" fill="#000" stroke="#000" stroke-width="0.2" textLength="19" lengthAdjust="spacingAndGlyphs">c<tspan font-style="italic" font-size="20.5" dy="5.5">l</tspan></text>
<rect x="939.6" y="1409.1" width="47" height="30.7" fill="#7a0403"/>
<rect x="939.6" y="1439.4" width="47" height="30.7" fill="#d23105"/>
<rect x="939.6" y="1469.7" width="47" height="30.7" fill="#fb8022"/>
<rect x="939.6" y="1500" width="47" height="30.7" fill="#eecf3a"/>
<rect x="939.6" y="1530.3" width="47" height="30.7" fill="#a4fc3c"/>
<rect x="939.6" y="1560.6" width="47" height="30.7" fill="#32f298"/>
<rect x="939.6" y="1590.9" width="47" height="30.7" fill="#28bbec"/>
<rect x="939.6" y="1621.2" width="47" height="30.7" fill="#466be3"/>
<rect x="939.6" y="1651.5" width="47" height="30.7" fill="#30123b"/>
<rect x="939.6" y="1409.3" width="47" height="272.7" fill="none" stroke="#2b2b2b" stroke-width="1.8"/>
<text x="1000.3" y="1418.6" font-size="31" fill="#262626" stroke="#262626" stroke-width="0.2" textLength="56.5" lengthAdjust="spacingAndGlyphs">Max</text>
<text x="1000.3" y="1686.5" font-size="31" fill="#262626" stroke="#262626" stroke-width="0.2" textLength="50.5" lengthAdjust="spacingAndGlyphs">Min</text>
<text x="952.1" y="1394" font-size="31" fill="#000" stroke="#000" stroke-width="0.2" textLength="26" lengthAdjust="spacingAndGlyphs">Φ<tspan font-style="italic" font-size="20.5" dy="5.5">l</tspan></text>
<rect x="1945.1" y="123.1" width="44.6" height="31.7" fill="#7a0403"/>
<rect x="1945.1" y="154.4" width="44.6" height="31.7" fill="#d23105"/>
<rect x="1945.1" y="185.7" width="44.6" height="31.7" fill="#fb8022"/>
<rect x="1945.1" y="217.1" width="44.6" height="31.7" fill="#eecf3a"/>
<rect x="1945.1" y="248.4" width="44.6" height="31.7" fill="#a4fc3c"/>
<rect x="1945.1" y="279.7" width="44.6" height="31.7" fill="#32f298"/>
<rect x="1945.1" y="311" width="44.6" height="31.7" fill="#28bbec"/>
<rect x="1945.1" y="342.4" width="44.6" height="31.7" fill="#466be3"/>
<rect x="1945.1" y="373.7" width="44.6" height="31.7" fill="#30123b"/>
<rect x="1945.1" y="123.3" width="44.6" height="281.9" fill="none" stroke="#2b2b2b" stroke-width="1.8"/>
<text x="2003.3" y="133.8" font-size="31" fill="#262626" stroke="#262626" stroke-width="0.2" textLength="56.5" lengthAdjust="spacingAndGlyphs">Max</text>
<text x="2003.3" y="409.3" font-size="31" fill="#262626" stroke="#262626" stroke-width="0.2" textLength="50.5" lengthAdjust="spacingAndGlyphs">Min</text>
<text x="1945" y="110.5" font-size="31" fill="#000" stroke="#000" stroke-width="0.2" textLength="45" lengthAdjust="spacingAndGlyphs">|i<tspan font-style="italic" font-size="20.5" dy="5.5">loc</tspan><tspan dy="-5.5" font-size="31">|</tspan></text>
<rect x="1943.6" y="563.3" width="47.8" height="31.4" fill="#7a0403"/>
<rect x="1943.6" y="594.3" width="47.8" height="31.4" fill="#d23105"/>
<rect x="1943.6" y="625.2" width="47.8" height="31.4" fill="#fb8022"/>
<rect x="1943.6" y="656.2" width="47.8" height="31.4" fill="#eecf3a"/>
<rect x="1943.6" y="687.2" width="47.8" height="31.4" fill="#a4fc3c"/>
<rect x="1943.6" y="718.1" width="47.8" height="31.4" fill="#32f298"/>
<rect x="1943.6" y="749.1" width="47.8" height="31.4" fill="#28bbec"/>
<rect x="1943.6" y="780.1" width="47.8" height="31.4" fill="#466be3"/>
<rect x="1943.6" y="811" width="47.8" height="31.4" fill="#30123b"/>
<rect x="1943.6" y="563.5" width="47.8" height="278.7" fill="none" stroke="#2b2b2b" stroke-width="1.8"/>
<text x="2005.3" y="574.2" font-size="31" fill="#262626" stroke="#262626" stroke-width="0.2" textLength="56.5" lengthAdjust="spacingAndGlyphs">Max</text>
<text x="2005.3" y="848.1" font-size="31" fill="#262626" stroke="#262626" stroke-width="0.2" textLength="50.5" lengthAdjust="spacingAndGlyphs">Min</text>
<text x="1925.2" y="542.4" font-size="31" fill="#000" stroke="#000" stroke-width="0.2" textLength="107.4" lengthAdjust="spacingAndGlyphs">c<tspan font-style="italic" font-size="20.5" dy="5.5">s</tspan><tspan dy="-5.5">/c</tspan><tspan font-style="italic" font-size="20.5" dy="5.5">s,max</tspan></text>
<rect x="1944.5" y="988.4" width="47.2" height="30.7" fill="#7a0403"/>
<rect x="1944.5" y="1018.7" width="47.2" height="30.7" fill="#d23105"/>
<rect x="1944.5" y="1049" width="47.2" height="30.7" fill="#fb8022"/>
<rect x="1944.5" y="1079.4" width="47.2" height="30.7" fill="#eecf3a"/>
<rect x="1944.5" y="1109.7" width="47.2" height="30.7" fill="#a4fc3c"/>
<rect x="1944.5" y="1140" width="47.2" height="30.7" fill="#32f298"/>
<rect x="1944.5" y="1170.3" width="47.2" height="30.7" fill="#28bbec"/>
<rect x="1944.5" y="1200.7" width="47.2" height="30.7" fill="#466be3"/>
<rect x="1944.5" y="1231" width="47.2" height="30.7" fill="#30123b"/>
<rect x="1944.5" y="988.6" width="47.2" height="272.9" fill="none" stroke="#2b2b2b" stroke-width="1.8"/>
<text x="2005.3" y="1000.2" font-size="31" fill="#262626" stroke="#262626" stroke-width="0.2" textLength="56.5" lengthAdjust="spacingAndGlyphs">Max</text>
<text x="2005.3" y="1267.2" font-size="31" fill="#262626" stroke="#262626" stroke-width="0.2" textLength="50.5" lengthAdjust="spacingAndGlyphs">Min</text>
<text x="1958.1" y="976" font-size="31" fill="#000" stroke="#000" stroke-width="0.2" textLength="19" lengthAdjust="spacingAndGlyphs">c<tspan font-style="italic" font-size="20.5" dy="5.5">l</tspan></text>
<rect x="1944.6" y="1409.1" width="47" height="30.7" fill="#7a0403"/>
<rect x="1944.6" y="1439.4" width="47" height="30.7" fill="#d23105"/>
<rect x="1944.6" y="1469.7" width="47" height="30.7" fill="#fb8022"/>
<rect x="1944.6" y="1500" width="47" height="30.7" fill="#eecf3a"/>
<rect x="1944.6" y="1530.3" width="47" height="30.7" fill="#a4fc3c"/>
<rect x="1944.6" y="1560.6" width="47" height="30.7" fill="#32f298"/>
<rect x="1944.6" y="1590.9" width="47" height="30.7" fill="#28bbec"/>
<rect x="1944.6" y="1621.2" width="47" height="30.7" fill="#466be3"/>
<rect x="1944.6" y="1651.5" width="47" height="30.7" fill="#30123b"/>
<rect x="1944.6" y="1409.3" width="47" height="272.7" fill="none" stroke="#2b2b2b" stroke-width="1.8"/>
<text x="2005.3" y="1418.6" font-size="31" fill="#262626" stroke="#262626" stroke-width="0.2" textLength="56.5" lengthAdjust="spacingAndGlyphs">Max</text>
<text x="2005.3" y="1686.5" font-size="31" fill="#262626" stroke="#262626" stroke-width="0.2" textLength="50.5" lengthAdjust="spacingAndGlyphs">Min</text>
<text x="1957.1" y="1394" font-size="31" fill="#000" stroke="#000" stroke-width="0.2" textLength="26" lengthAdjust="spacingAndGlyphs">Φ<tspan font-style="italic" font-size="20.5" dy="5.5">l</tspan></text>
<text x="401.5" y="151.9" font-size="31" fill="#fff" stroke="#fff" stroke-width="0.2" textLength="196.3" lengthAdjust="spacingAndGlyphs">Increased Edge</text>
<text x="402.5" y="184.3" font-size="31" fill="#fff" stroke="#fff" stroke-width="0.2" textLength="198.2" lengthAdjust="spacingAndGlyphs">Deintercalation</text>
<line x1="605.1" y1="158.4" x2="634" y2="174.4" stroke="#fff" stroke-width="1.7"/>
<path d="M645.7 180.9L624.9 178L634 174.4L632.2 164.8Z" fill="#fff"/>
<text x="331" y="1029.3" font-size="31" fill="#222" stroke="#222" stroke-width="0.2" textLength="261.2" lengthAdjust="spacingAndGlyphs">Concentration Peak</text>
<line x1="605.3" y1="1006.4" x2="640.3" y2="1041.4" stroke="#fff" stroke-width="8"/>
<line x1="605.3" y1="1041.4" x2="640.3" y2="1006.4" stroke="#fff" stroke-width="8"/>
<line x1="284" y1="1078" x2="284" y2="1155.8" stroke="#fff" stroke-width="1.9"/>
<path d="M284 1169.8L275.7 1148.3L284 1155.8L292.3 1148.3Z" fill="#fff"/>
<line x1="380.9" y1="1078" x2="380.9" y2="1155.8" stroke="#fff" stroke-width="1.9"/>
<path d="M380.9 1169.8L372.6 1148.3L380.9 1155.8L389.2 1148.3Z" fill="#fff"/>
<line x1="471.8" y1="1078" x2="471.8" y2="1155.8" stroke="#fff" stroke-width="1.9"/>
<path d="M471.8 1169.8L463.5 1148.3L471.8 1155.8L480.1 1148.3Z" fill="#fff"/>
<line x1="564.9" y1="1078" x2="564.9" y2="1155.8" stroke="#fff" stroke-width="1.9"/>
<path d="M564.9 1169.8L556.6 1148.3L564.9 1155.8L573.2 1148.3Z" fill="#fff"/>
<line x1="633.1" y1="1114.9" x2="633.1" y2="1191.8" stroke="#fff" stroke-width="1.9"/>
<path d="M633.1 1205.8L624.8 1184.3L633.1 1191.8L641.4 1184.3Z" fill="#fff"/>
<line x1="662.5" y1="1007.2" x2="691.5" y2="1007.2" stroke="#fff" stroke-width="1.9"/>
<path d="M704.8 1007.2L684.3 1015L691.5 1007.2L684.3 999.4Z" fill="#fff"/>
<line x1="647.1" y1="1027" x2="677.1" y2="1027" stroke="#fff" stroke-width="1.9"/>
<path d="M690.4 1027L669.9 1034.8L677.1 1027L669.9 1019.2Z" fill="#fff"/>
<line x1="658.9" y1="1052.7" x2="688.8" y2="1052.7" stroke="#fff" stroke-width="1.9"/>
<path d="M702.1 1052.7L681.6 1060.5L688.8 1052.7L681.6 1044.9Z" fill="#fff"/>
<line x1="649.8" y1="1060.8" x2="687.8" y2="1089.5" stroke="#fff" stroke-width="4.6"/>
<path d="M701.2 1099.6L676 1093.1L687.8 1089.5L688.1 1077.2Z" fill="#fff"/>
<line x1="658" y1="1101.4" x2="685.2" y2="1145.6" stroke="#fff" stroke-width="4.6"/>
<path d="M694 1159.9L672.9 1144.7L685.2 1145.6L689.9 1134.2Z" fill="#fff"/>
<text x="712" y="1156.3" font-size="31" fill="#fff" stroke="#fff" stroke-width="0.2" textLength="153" lengthAdjust="spacingAndGlyphs">Charge flow</text>
<text x="712" y="1193.2" font-size="31" fill="#fff" stroke="#fff" stroke-width="0.2" textLength="100" lengthAdjust="spacingAndGlyphs">towards</text>
<text x="712" y="1229.2" font-size="31" fill="#fff" stroke="#fff" stroke-width="0.2" textLength="126" lengthAdjust="spacingAndGlyphs">Overhang</text>
<line x1="1286.9" y1="1087" x2="1286.9" y2="1158.5" stroke="#fff" stroke-width="1.9"/>
<path d="M1286.9 1172.5L1278.6 1151L1286.9 1158.5L1295.2 1151Z" fill="#fff"/>
<line x1="1385.9" y1="1087" x2="1385.9" y2="1158.5" stroke="#fff" stroke-width="1.9"/>
<path d="M1385.9 1172.5L1377.6 1151L1385.9 1158.5L1394.2 1151Z" fill="#fff"/>
<line x1="1479.9" y1="1089.3" x2="1479.9" y2="1161.2" stroke="#fff" stroke-width="1.9"/>
<path d="M1479.9 1175.2L1471.6 1153.7L1479.9 1161.2L1488.2 1153.7Z" fill="#fff"/>
<line x1="1570.6" y1="1087" x2="1570.6" y2="1158.5" stroke="#fff" stroke-width="1.9"/>
<path d="M1570.6 1172.5L1562.3 1151L1570.6 1158.5L1578.9 1151Z" fill="#fff"/>
<line x1="1640.3" y1="1056.3" x2="1649.7" y2="1112.8" stroke="#fff" stroke-width="1.9"/>
<path d="M1652 1126.6L1640.3 1106.8L1649.7 1112.8L1656.7 1104Z" fill="#fff"/>
<text x="1691.3" y="1201.3" font-size="31" fill="#fff" stroke="#fff" stroke-width="0.2" textLength="203" lengthAdjust="spacingAndGlyphs">No Charge flow</text>
<line x1="605.7" y1="1428.6" x2="605.7" y2="1500.3" stroke="#fff" stroke-width="4.2"/>
<path d="M605.7 1515L597.2 1494L605.7 1500.3L614.2 1494Z" fill="#fff"/>
<line x1="587.2" y1="1531.7" x2="624.2" y2="1568.7" stroke="#fff" stroke-width="8"/>
<line x1="587.2" y1="1568.7" x2="624.2" y2="1531.7" stroke="#fff" stroke-width="8"/>
<text x="561.6" y="1592.5" font-size="31" fill="#222" stroke="#222" stroke-width="0.2" textLength="95" lengthAdjust="spacingAndGlyphs">Plating</text>
</svg>
</body></html>
